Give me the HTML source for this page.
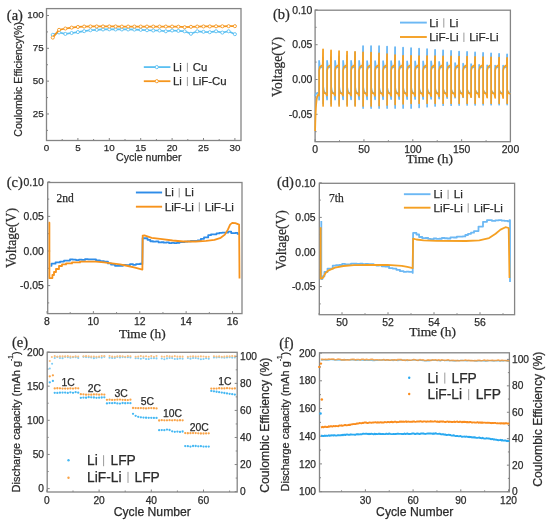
<!DOCTYPE html>
<html><head><meta charset="utf-8"><style>
html,body{margin:0;padding:0;background:#fff;width:550px;height:525px;overflow:hidden}
svg{display:block;filter:blur(0.3px)}
</style></head><body>
<svg width="550" height="525" viewBox="0 0 550 525">
<rect width="550" height="525" fill="#fff"/>
<rect x="46.50" y="8.60" width="194.50" height="131.90" fill="none" stroke="#858585" stroke-width="1.3"/>
<path d="M46.50 140.50v-2.5M77.90 140.50v-2.5M109.30 140.50v-2.5M140.70 140.50v-2.5M172.10 140.50v-2.5M203.50 140.50v-2.5M234.90 140.50v-2.5" stroke="#858585" stroke-width="1"/>
<path d="M62.20 140.50v-1.5M93.60 140.50v-1.5M125.00 140.50v-1.5M156.40 140.50v-1.5M187.80 140.50v-1.5M219.20 140.50v-1.5" stroke="#858585" stroke-width="1"/>
<path d="M46.50 113.97h2.5M46.50 81.15h2.5M46.50 48.32h2.5M46.50 15.50h2.5" stroke="#858585" stroke-width="1"/>
<path d="M46.50 130.39h1.5M46.50 97.56h1.5M46.50 64.74h1.5M46.50 31.91h1.5" stroke="#858585" stroke-width="1"/>
<text x="46.50" y="150.63" font-family='"Liberation Sans", sans-serif' font-size="9.8" text-anchor="middle" fill="#2b2b2b" stroke="#2b2b2b" stroke-width="0.25" stroke-linejoin="round" >0</text>
<text x="77.90" y="150.63" font-family='"Liberation Sans", sans-serif' font-size="9.8" text-anchor="middle" fill="#2b2b2b" stroke="#2b2b2b" stroke-width="0.25" stroke-linejoin="round" >5</text>
<text x="109.30" y="150.63" font-family='"Liberation Sans", sans-serif' font-size="9.8" text-anchor="middle" fill="#2b2b2b" stroke="#2b2b2b" stroke-width="0.25" stroke-linejoin="round" >10</text>
<text x="140.70" y="150.63" font-family='"Liberation Sans", sans-serif' font-size="9.8" text-anchor="middle" fill="#2b2b2b" stroke="#2b2b2b" stroke-width="0.25" stroke-linejoin="round" >15</text>
<text x="172.10" y="150.63" font-family='"Liberation Sans", sans-serif' font-size="9.8" text-anchor="middle" fill="#2b2b2b" stroke="#2b2b2b" stroke-width="0.25" stroke-linejoin="round" >20</text>
<text x="203.50" y="150.63" font-family='"Liberation Sans", sans-serif' font-size="9.8" text-anchor="middle" fill="#2b2b2b" stroke="#2b2b2b" stroke-width="0.25" stroke-linejoin="round" >25</text>
<text x="234.90" y="150.63" font-family='"Liberation Sans", sans-serif' font-size="9.8" text-anchor="middle" fill="#2b2b2b" stroke="#2b2b2b" stroke-width="0.25" stroke-linejoin="round" >30</text>
<text x="43.60" y="116.71" font-family='"Liberation Sans", sans-serif' font-size="9.8" text-anchor="end" fill="#2b2b2b" stroke="#2b2b2b" stroke-width="0.25" stroke-linejoin="round" >25</text>
<text x="43.60" y="83.88" font-family='"Liberation Sans", sans-serif' font-size="9.8" text-anchor="end" fill="#2b2b2b" stroke="#2b2b2b" stroke-width="0.25" stroke-linejoin="round" >50</text>
<text x="43.60" y="51.06" font-family='"Liberation Sans", sans-serif' font-size="9.8" text-anchor="end" fill="#2b2b2b" stroke="#2b2b2b" stroke-width="0.25" stroke-linejoin="round" >75</text>
<text x="43.60" y="18.23" font-family='"Liberation Sans", sans-serif' font-size="9.8" text-anchor="end" fill="#2b2b2b" stroke="#2b2b2b" stroke-width="0.25" stroke-linejoin="round" >100</text>
<text x="148.80" y="160.99" font-family='"Liberation Sans", sans-serif' font-size="10.6" text-anchor="middle" fill="#2b2b2b" stroke="#2b2b2b" stroke-width="0.25" stroke-linejoin="round" >Cycle number</text>
<text transform="translate(21.80,136.20) rotate(-90)" x="-0.54" y="0" font-family='"Liberation Sans", sans-serif' font-size="10.62" fill="#2b2b2b" stroke="#2b2b2b" stroke-width="0.25" stroke-linejoin="round">Coulombic Efficiency(%)</text>
<text x="14.90" y="19.79" font-family='"Liberation Serif", serif' font-size="14.5" text-anchor="middle" fill="#2b2b2b" stroke="#2b2b2b" stroke-width="0.25" stroke-linejoin="round" >(a)</text>
<path d="M52.78 34.84 L59.06 32.48 L65.34 33.92 L71.62 33.00 L77.90 32.08 L84.18 31.16 L90.46 30.24 L96.74 29.85 L103.02 29.46 L109.30 29.32 L115.58 29.46 L121.86 29.46 L128.14 29.46 L134.42 29.59 L140.70 29.85 L146.98 30.24 L153.26 30.51 L159.54 30.51 L165.82 31.29 L172.10 30.51 L178.38 30.90 L184.66 31.29 L190.94 33.79 L197.22 31.29 L203.50 31.82 L209.78 32.21 L216.06 31.29 L222.34 32.61 L228.62 31.29 L234.90 34.18" fill="none" stroke="#5bc0f2" stroke-width="1.7" stroke-linejoin="round" />
<circle cx="52.78" cy="34.84" r="1.55" fill="#fff" stroke="#5bc0f2" stroke-width="0.9"/>
<circle cx="59.06" cy="32.48" r="1.55" fill="#fff" stroke="#5bc0f2" stroke-width="0.9"/>
<circle cx="65.34" cy="33.92" r="1.55" fill="#fff" stroke="#5bc0f2" stroke-width="0.9"/>
<circle cx="71.62" cy="33.00" r="1.55" fill="#fff" stroke="#5bc0f2" stroke-width="0.9"/>
<circle cx="77.90" cy="32.08" r="1.55" fill="#fff" stroke="#5bc0f2" stroke-width="0.9"/>
<circle cx="84.18" cy="31.16" r="1.55" fill="#fff" stroke="#5bc0f2" stroke-width="0.9"/>
<circle cx="90.46" cy="30.24" r="1.55" fill="#fff" stroke="#5bc0f2" stroke-width="0.9"/>
<circle cx="96.74" cy="29.85" r="1.55" fill="#fff" stroke="#5bc0f2" stroke-width="0.9"/>
<circle cx="103.02" cy="29.46" r="1.55" fill="#fff" stroke="#5bc0f2" stroke-width="0.9"/>
<circle cx="109.30" cy="29.32" r="1.55" fill="#fff" stroke="#5bc0f2" stroke-width="0.9"/>
<circle cx="115.58" cy="29.46" r="1.55" fill="#fff" stroke="#5bc0f2" stroke-width="0.9"/>
<circle cx="121.86" cy="29.46" r="1.55" fill="#fff" stroke="#5bc0f2" stroke-width="0.9"/>
<circle cx="128.14" cy="29.46" r="1.55" fill="#fff" stroke="#5bc0f2" stroke-width="0.9"/>
<circle cx="134.42" cy="29.59" r="1.55" fill="#fff" stroke="#5bc0f2" stroke-width="0.9"/>
<circle cx="140.70" cy="29.85" r="1.55" fill="#fff" stroke="#5bc0f2" stroke-width="0.9"/>
<circle cx="146.98" cy="30.24" r="1.55" fill="#fff" stroke="#5bc0f2" stroke-width="0.9"/>
<circle cx="153.26" cy="30.51" r="1.55" fill="#fff" stroke="#5bc0f2" stroke-width="0.9"/>
<circle cx="159.54" cy="30.51" r="1.55" fill="#fff" stroke="#5bc0f2" stroke-width="0.9"/>
<circle cx="165.82" cy="31.29" r="1.55" fill="#fff" stroke="#5bc0f2" stroke-width="0.9"/>
<circle cx="172.10" cy="30.51" r="1.55" fill="#fff" stroke="#5bc0f2" stroke-width="0.9"/>
<circle cx="178.38" cy="30.90" r="1.55" fill="#fff" stroke="#5bc0f2" stroke-width="0.9"/>
<circle cx="184.66" cy="31.29" r="1.55" fill="#fff" stroke="#5bc0f2" stroke-width="0.9"/>
<circle cx="190.94" cy="33.79" r="1.55" fill="#fff" stroke="#5bc0f2" stroke-width="0.9"/>
<circle cx="197.22" cy="31.29" r="1.55" fill="#fff" stroke="#5bc0f2" stroke-width="0.9"/>
<circle cx="203.50" cy="31.82" r="1.55" fill="#fff" stroke="#5bc0f2" stroke-width="0.9"/>
<circle cx="209.78" cy="32.21" r="1.55" fill="#fff" stroke="#5bc0f2" stroke-width="0.9"/>
<circle cx="216.06" cy="31.29" r="1.55" fill="#fff" stroke="#5bc0f2" stroke-width="0.9"/>
<circle cx="222.34" cy="32.61" r="1.55" fill="#fff" stroke="#5bc0f2" stroke-width="0.9"/>
<circle cx="228.62" cy="31.29" r="1.55" fill="#fff" stroke="#5bc0f2" stroke-width="0.9"/>
<circle cx="234.90" cy="34.18" r="1.55" fill="#fff" stroke="#5bc0f2" stroke-width="0.9"/>
<path d="M52.78 37.60 L59.06 29.85 L65.34 28.54 L71.62 27.62 L77.90 26.96 L84.18 26.57 L90.46 26.44 L96.74 26.44 L103.02 26.44 L109.30 26.44 L115.58 26.44 L121.86 26.57 L128.14 26.57 L134.42 26.57 L140.70 26.57 L146.98 26.57 L153.26 26.57 L159.54 26.57 L165.82 26.57 L172.10 26.57 L178.38 26.70 L184.66 27.22 L190.94 26.83 L197.22 26.57 L203.50 26.44 L209.78 26.44 L216.06 26.30 L222.34 26.30 L228.62 26.17 L234.90 26.17" fill="none" stroke="#f5961e" stroke-width="1.7" stroke-linejoin="round" />
<circle cx="52.78" cy="37.60" r="1.55" fill="#fff" stroke="#f5961e" stroke-width="0.9"/>
<circle cx="59.06" cy="29.85" r="1.55" fill="#fff" stroke="#f5961e" stroke-width="0.9"/>
<circle cx="65.34" cy="28.54" r="1.55" fill="#fff" stroke="#f5961e" stroke-width="0.9"/>
<circle cx="71.62" cy="27.62" r="1.55" fill="#fff" stroke="#f5961e" stroke-width="0.9"/>
<circle cx="77.90" cy="26.96" r="1.55" fill="#fff" stroke="#f5961e" stroke-width="0.9"/>
<circle cx="84.18" cy="26.57" r="1.55" fill="#fff" stroke="#f5961e" stroke-width="0.9"/>
<circle cx="90.46" cy="26.44" r="1.55" fill="#fff" stroke="#f5961e" stroke-width="0.9"/>
<circle cx="96.74" cy="26.44" r="1.55" fill="#fff" stroke="#f5961e" stroke-width="0.9"/>
<circle cx="103.02" cy="26.44" r="1.55" fill="#fff" stroke="#f5961e" stroke-width="0.9"/>
<circle cx="109.30" cy="26.44" r="1.55" fill="#fff" stroke="#f5961e" stroke-width="0.9"/>
<circle cx="115.58" cy="26.44" r="1.55" fill="#fff" stroke="#f5961e" stroke-width="0.9"/>
<circle cx="121.86" cy="26.57" r="1.55" fill="#fff" stroke="#f5961e" stroke-width="0.9"/>
<circle cx="128.14" cy="26.57" r="1.55" fill="#fff" stroke="#f5961e" stroke-width="0.9"/>
<circle cx="134.42" cy="26.57" r="1.55" fill="#fff" stroke="#f5961e" stroke-width="0.9"/>
<circle cx="140.70" cy="26.57" r="1.55" fill="#fff" stroke="#f5961e" stroke-width="0.9"/>
<circle cx="146.98" cy="26.57" r="1.55" fill="#fff" stroke="#f5961e" stroke-width="0.9"/>
<circle cx="153.26" cy="26.57" r="1.55" fill="#fff" stroke="#f5961e" stroke-width="0.9"/>
<circle cx="159.54" cy="26.57" r="1.55" fill="#fff" stroke="#f5961e" stroke-width="0.9"/>
<circle cx="165.82" cy="26.57" r="1.55" fill="#fff" stroke="#f5961e" stroke-width="0.9"/>
<circle cx="172.10" cy="26.57" r="1.55" fill="#fff" stroke="#f5961e" stroke-width="0.9"/>
<circle cx="178.38" cy="26.70" r="1.55" fill="#fff" stroke="#f5961e" stroke-width="0.9"/>
<circle cx="184.66" cy="27.22" r="1.55" fill="#fff" stroke="#f5961e" stroke-width="0.9"/>
<circle cx="190.94" cy="26.83" r="1.55" fill="#fff" stroke="#f5961e" stroke-width="0.9"/>
<circle cx="197.22" cy="26.57" r="1.55" fill="#fff" stroke="#f5961e" stroke-width="0.9"/>
<circle cx="203.50" cy="26.44" r="1.55" fill="#fff" stroke="#f5961e" stroke-width="0.9"/>
<circle cx="209.78" cy="26.44" r="1.55" fill="#fff" stroke="#f5961e" stroke-width="0.9"/>
<circle cx="216.06" cy="26.30" r="1.55" fill="#fff" stroke="#f5961e" stroke-width="0.9"/>
<circle cx="222.34" cy="26.30" r="1.55" fill="#fff" stroke="#f5961e" stroke-width="0.9"/>
<circle cx="228.62" cy="26.17" r="1.55" fill="#fff" stroke="#f5961e" stroke-width="0.9"/>
<circle cx="234.90" cy="26.17" r="1.55" fill="#fff" stroke="#f5961e" stroke-width="0.9"/>
<path d="M143.8 67.1H170.4" stroke="#5bc0f2" stroke-width="1.8"/>
<circle cx="156.8" cy="67.1" r="1.6" fill="#fff" stroke="#5bc0f2" stroke-width="0.9"/>
<text x="173.00" y="70.98" font-family='"Liberation Sans", sans-serif' font-size="11.4" text-anchor="start" fill="#2b2b2b" stroke="#2b2b2b" stroke-width="0.25" stroke-linejoin="round" >Li</text>
<path d="M187.40 62.84v9.12" stroke="#909090" stroke-width="0.9"/>
<text x="192.82" y="70.98" font-family='"Liberation Sans", sans-serif' font-size="11.4" text-anchor="start" fill="#2b2b2b" stroke="#2b2b2b" stroke-width="0.25" stroke-linejoin="round" >Cu</text>
<path d="M143.8 81.2H170.4" stroke="#f5961e" stroke-width="1.8"/>
<circle cx="156.8" cy="81.2" r="1.6" fill="#fff" stroke="#f5961e" stroke-width="0.9"/>
<text x="173.00" y="85.08" font-family='"Liberation Sans", sans-serif' font-size="11.4" text-anchor="start" fill="#2b2b2b" stroke="#2b2b2b" stroke-width="0.25" stroke-linejoin="round" >Li</text>
<path d="M187.40 76.94v9.12" stroke="#909090" stroke-width="0.9"/>
<text x="192.47" y="85.08" font-family='"Liberation Sans", sans-serif' font-size="11.4" text-anchor="start" fill="#2b2b2b" stroke="#2b2b2b" stroke-width="0.25" stroke-linejoin="round" >LiF-Cu</text>
<rect x="315.10" y="10.20" width="195.30" height="131.50" fill="none" stroke="#858585" stroke-width="1.3"/>
<path d="M315.10 141.70v-2.5M363.95 141.70v-2.5M412.80 141.70v-2.5M461.65 141.70v-2.5M510.50 141.70v-2.5" stroke="#858585" stroke-width="1"/>
<path d="M339.53 141.70v-1.5M388.38 141.70v-1.5M437.23 141.70v-1.5M486.08 141.70v-1.5" stroke="#858585" stroke-width="1"/>
<path d="M315.10 9.90h2.5M315.10 44.70h2.5M315.10 79.50h2.5M315.10 114.30h2.5" stroke="#858585" stroke-width="1"/>
<path d="M315.10 27.30h1.5M315.10 62.10h1.5M315.10 96.90h1.5M315.10 131.70h1.5" stroke="#858585" stroke-width="1"/>
<text x="315.10" y="152.72" font-family='"Liberation Sans", sans-serif' font-size="10.4" text-anchor="middle" fill="#2b2b2b" stroke="#2b2b2b" stroke-width="0.25" stroke-linejoin="round" >0</text>
<text x="363.95" y="152.72" font-family='"Liberation Sans", sans-serif' font-size="10.4" text-anchor="middle" fill="#2b2b2b" stroke="#2b2b2b" stroke-width="0.25" stroke-linejoin="round" >50</text>
<text x="412.80" y="152.72" font-family='"Liberation Sans", sans-serif' font-size="10.4" text-anchor="middle" fill="#2b2b2b" stroke="#2b2b2b" stroke-width="0.25" stroke-linejoin="round" >100</text>
<text x="461.65" y="152.72" font-family='"Liberation Sans", sans-serif' font-size="10.4" text-anchor="middle" fill="#2b2b2b" stroke="#2b2b2b" stroke-width="0.25" stroke-linejoin="round" >150</text>
<text x="510.50" y="152.72" font-family='"Liberation Sans", sans-serif' font-size="10.4" text-anchor="middle" fill="#2b2b2b" stroke="#2b2b2b" stroke-width="0.25" stroke-linejoin="round" >200</text>
<text x="312.40" y="13.62" font-family='"Liberation Sans", sans-serif' font-size="10.4" text-anchor="end" fill="#2b2b2b" stroke="#2b2b2b" stroke-width="0.25" stroke-linejoin="round" >0.10</text>
<text x="312.40" y="48.42" font-family='"Liberation Sans", sans-serif' font-size="10.4" text-anchor="end" fill="#2b2b2b" stroke="#2b2b2b" stroke-width="0.25" stroke-linejoin="round" >0.05</text>
<text x="312.40" y="83.22" font-family='"Liberation Sans", sans-serif' font-size="10.4" text-anchor="end" fill="#2b2b2b" stroke="#2b2b2b" stroke-width="0.25" stroke-linejoin="round" >0.00</text>
<text x="312.40" y="118.02" font-family='"Liberation Sans", sans-serif' font-size="10.4" text-anchor="end" fill="#2b2b2b" stroke="#2b2b2b" stroke-width="0.25" stroke-linejoin="round" >-0.05</text>
<text x="429.60" y="162.82" font-family='"Liberation Serif", serif' font-size="13.4" text-anchor="middle" fill="#2b2b2b" stroke="#2b2b2b" stroke-width="0.25" stroke-linejoin="round" >Time (h)</text>
<text transform="translate(281.60,96.80) rotate(-90)" x="-0.15" y="0" font-family='"Liberation Serif", serif' font-size="13.55" fill="#2b2b2b" stroke="#2b2b2b" stroke-width="0.25" stroke-linejoin="round">Voltage(V)</text>
<text x="281.50" y="18.79" font-family='"Liberation Serif", serif' font-size="14.5" text-anchor="middle" fill="#2b2b2b" stroke="#2b2b2b" stroke-width="0.25" stroke-linejoin="round" >(b)</text>
<path d="M315.10 96.20 L315.30 95.50 L315.50 94.93 L315.70 94.48 L315.90 94.12 L316.10 93.84 L316.30 93.61 L316.50 93.43 L316.70 93.29 L316.90 93.17 L317.10 93.08 L317.30 93.01 L317.50 92.95 L317.70 92.90 L317.90 92.87 L318.10 92.84 L318.30 92.82 L318.50 92.80 L318.70 92.78 L318.90 92.77 L319.10 92.76 L319.10 99.66 L319.10 60.73 L319.88 67.67 L322.76 66.97 L323.00 57.87 L323.10 57.87 L323.10 103.45 L323.25 87.25 L324.08 92.03 L326.42 93.42 L327.10 99.61 L327.10 60.78 L327.88 67.67 L330.76 66.97 L331.01 57.12 L331.10 57.12 L331.10 103.73 L331.25 87.35 L332.08 92.03 L334.42 93.42 L335.10 99.57 L335.10 60.83 L335.89 67.67 L338.76 66.97 L339.01 56.37 L339.10 56.37 L339.10 104.02 L339.25 87.44 L340.08 92.03 L342.42 93.42 L343.11 99.52 L343.11 60.87 L343.89 67.67 L346.76 66.97 L347.01 55.62 L347.11 55.62 L347.11 104.30 L347.25 87.54 L348.08 92.03 L350.42 93.42 L351.11 99.47 L351.11 60.92 L351.89 67.67 L354.77 66.97 L355.01 52.47 L355.11 52.47 L355.11 104.97 L355.25 87.63 L356.09 92.03 L358.43 93.42 L359.11 99.42 L359.11 60.97 L359.89 67.67 L362.77 66.97 L363.01 46.09 L363.11 46.09 L363.11 108.04 L363.26 87.73 L364.09 92.03 L366.43 93.42 L367.11 99.38 L367.11 61.02 L367.89 67.67 L370.77 66.97 L371.01 46.09 L371.11 46.09 L371.11 108.04 L371.26 87.82 L372.09 92.03 L374.43 93.42 L375.11 99.33 L375.11 61.06 L375.89 67.67 L378.77 66.97 L379.02 46.12 L379.11 46.12 L379.11 108.04 L379.26 87.92 L380.09 92.03 L382.43 93.42 L383.11 99.28 L383.11 61.11 L383.90 67.67 L386.77 66.97 L387.02 46.61 L387.11 46.61 L387.11 108.04 L387.26 88.01 L388.09 92.03 L390.43 93.42 L391.12 99.23 L391.12 61.16 L391.90 67.67 L394.77 66.97 L395.02 47.10 L395.12 47.10 L395.12 108.04 L395.26 88.11 L396.09 92.03 L398.43 93.42 L399.12 99.19 L399.12 61.21 L399.90 67.67 L402.78 66.97 L403.02 47.59 L403.12 47.59 L403.12 108.04 L403.26 88.20 L404.09 92.03 L406.43 93.42 L407.12 99.14 L407.12 61.25 L407.90 67.67 L410.78 66.97 L411.02 48.08 L411.12 48.08 L411.12 108.04 L411.27 88.30 L412.10 92.03 L414.44 93.42 L415.12 99.09 L415.12 61.30 L415.90 67.67 L418.78 66.97 L419.02 48.63 L419.12 48.63 L419.12 107.44 L419.27 88.39 L420.10 92.03 L422.44 93.42 L423.12 99.04 L423.12 61.35 L423.90 67.67 L426.78 66.97 L427.03 49.20 L427.12 49.20 L427.12 106.68 L427.27 88.49 L428.10 92.03 L430.44 93.42 L431.12 99.00 L431.12 61.40 L431.91 67.67 L434.78 66.97 L435.03 49.77 L435.12 49.77 L435.12 105.92 L435.27 88.65 L436.10 92.03 L438.44 93.42 L439.13 98.63 L439.13 61.89 L439.91 67.67 L442.78 66.97 L443.03 50.34 L443.13 50.34 L443.13 105.24 L443.27 88.93 L444.10 92.03 L446.44 93.42 L447.13 98.20 L447.13 62.46 L447.91 67.67 L450.79 66.97 L451.03 50.91 L451.13 50.91 L451.13 105.16 L451.27 89.22 L452.10 92.03 L454.44 93.42 L455.13 97.77 L455.13 63.03 L455.91 67.67 L458.79 66.97 L459.03 51.48 L459.13 51.48 L459.13 105.08 L459.28 89.50 L460.11 92.03 L462.45 93.42 L463.13 97.34 L463.13 63.60 L463.91 67.67 L466.79 66.97 L467.03 51.97 L467.13 51.97 L467.13 105.00 L467.28 89.79 L468.11 92.03 L470.45 93.42 L471.13 96.92 L471.13 64.17 L471.91 67.67 L474.79 66.97 L475.03 52.43 L475.13 52.43 L475.13 104.92 L475.28 90.07 L476.11 92.03 L478.45 93.42 L479.13 96.49 L479.13 64.74 L479.92 67.67 L482.79 66.97 L483.04 52.88 L483.13 52.88 L483.13 104.83 L483.28 90.36 L484.11 92.03 L486.45 93.42 L487.14 96.06 L487.14 65.31 L487.92 67.67 L490.79 66.97 L491.04 53.34 L491.14 53.34 L491.14 104.75 L491.28 90.64 L492.11 92.03 L494.45 93.42 L495.14 95.63 L495.14 65.58 L495.92 67.67 L498.80 66.97 L499.04 53.80 L499.14 53.80 L499.14 104.67 L499.28 90.93 L500.11 92.03 L502.45 93.42 L503.14 95.21 L503.14 65.58 L503.92 67.67 L506.80 66.97 L507.04 54.25 L507.14 54.25 L507.14 104.59 L507.29 91.21 L508.12 92.03 L510.21 93.42 L510.21 93.42" fill="none" stroke="#6cb8f4" stroke-width="1.7" stroke-linejoin="round" />
<path d="M315.10 131.00 L315.30 123.36 L315.50 117.27 L315.70 112.41 L315.90 108.55 L316.10 105.47 L316.30 103.02 L316.50 101.07 L316.70 99.51 L316.90 98.27 L317.10 97.28 L317.30 96.50 L317.50 95.87 L317.70 95.37 L317.90 94.98 L318.10 94.66 L318.30 94.41 L318.50 94.21 L318.70 94.05 L318.90 93.92 L319.10 93.82 L319.10 95.53 L319.10 70.45 L319.88 66.97 L322.76 64.88 L323.00 49.32 L323.10 49.32 L323.10 105.95 L323.25 89.94 L324.08 92.72 L326.42 94.12 L327.10 95.58 L327.10 70.45 L327.88 66.97 L330.76 64.88 L331.01 50.46 L331.10 50.46 L331.10 105.95 L331.25 89.94 L332.08 92.72 L334.42 94.12 L335.10 95.63 L335.10 70.45 L335.89 66.97 L338.76 64.88 L339.01 51.16 L339.10 51.16 L339.10 105.95 L339.25 89.94 L340.08 92.72 L342.42 94.12 L343.11 95.67 L343.11 70.45 L343.89 66.97 L346.76 64.88 L347.01 51.52 L347.11 51.52 L347.11 105.95 L347.25 89.94 L348.08 92.72 L350.42 94.12 L351.11 95.72 L351.11 70.45 L351.89 66.97 L354.77 64.88 L355.01 51.88 L355.11 51.88 L355.11 105.95 L355.25 89.94 L356.09 92.72 L358.43 94.12 L359.11 95.77 L359.11 70.45 L359.89 66.97 L362.77 64.88 L363.01 52.23 L363.11 52.23 L363.11 105.95 L363.26 89.94 L364.09 92.72 L366.43 94.12 L367.11 95.82 L367.11 70.45 L367.89 66.97 L370.77 64.88 L371.01 52.59 L371.11 52.59 L371.11 105.95 L371.26 89.94 L372.09 92.72 L374.43 94.12 L375.11 95.86 L375.11 70.45 L375.89 66.97 L378.77 64.88 L379.02 53.28 L379.11 53.28 L379.11 105.56 L379.26 89.94 L380.09 92.72 L382.43 94.12 L383.11 95.91 L383.11 70.45 L383.90 66.97 L386.77 64.88 L387.02 54.14 L387.11 54.14 L387.11 104.99 L387.26 89.94 L388.09 92.72 L390.43 94.12 L391.12 95.96 L391.12 70.45 L391.90 66.97 L394.77 64.88 L395.02 54.99 L395.12 54.99 L395.12 104.42 L395.26 89.94 L396.09 92.72 L398.43 94.12 L399.12 96.01 L399.12 70.45 L399.90 66.97 L402.78 64.88 L403.02 55.84 L403.12 55.84 L403.12 103.85 L403.26 89.94 L404.09 92.72 L406.43 94.12 L407.12 96.05 L407.12 70.45 L407.90 66.97 L410.78 64.88 L411.02 55.93 L411.12 55.93 L411.12 103.28 L411.27 89.94 L412.10 92.72 L414.44 94.12 L415.12 96.10 L415.12 70.45 L415.90 66.97 L418.78 64.88 L419.02 56.03 L419.12 56.03 L419.12 103.16 L419.27 89.94 L420.10 92.72 L422.44 94.12 L423.12 96.15 L423.12 70.45 L423.90 66.97 L426.78 64.88 L427.03 56.12 L427.12 56.12 L427.12 103.16 L427.27 89.94 L428.10 92.72 L430.44 94.12 L431.12 96.20 L431.12 70.45 L431.91 66.97 L434.78 64.88 L435.03 56.22 L435.12 56.22 L435.12 103.16 L435.27 89.94 L436.10 92.72 L438.44 94.12 L439.13 96.39 L439.13 70.45 L439.91 66.97 L442.78 64.88 L443.03 56.31 L443.13 56.31 L443.13 103.16 L443.27 89.94 L444.10 92.72 L446.44 94.12 L447.13 96.60 L447.13 70.45 L447.91 66.97 L450.79 64.88 L451.03 56.41 L451.13 56.41 L451.13 103.16 L451.27 89.94 L452.10 92.72 L454.44 94.12 L455.13 96.81 L455.13 70.45 L455.91 66.97 L458.79 64.88 L459.03 56.50 L459.13 56.50 L459.13 103.16 L459.28 89.94 L460.11 92.72 L462.45 94.12 L463.13 97.03 L463.13 70.45 L463.91 66.97 L466.79 64.88 L467.03 56.69 L467.13 56.69 L467.13 103.16 L467.28 89.94 L468.11 92.72 L470.45 94.12 L471.13 97.24 L471.13 70.45 L471.91 66.97 L474.79 64.88 L475.03 56.92 L475.13 56.92 L475.13 103.16 L475.28 89.94 L476.11 92.72 L478.45 94.12 L479.13 97.45 L479.13 70.45 L479.92 66.97 L482.79 64.88 L483.04 57.14 L483.13 57.14 L483.13 103.16 L483.28 89.94 L484.11 92.72 L486.45 94.12 L487.14 97.67 L487.14 70.45 L487.92 66.97 L490.79 64.88 L491.04 57.37 L491.14 57.37 L491.14 103.16 L491.28 89.94 L492.11 92.72 L494.45 94.12 L495.14 97.88 L495.14 70.45 L495.92 66.97 L498.80 64.88 L499.04 57.60 L499.14 57.60 L499.14 103.16 L499.28 89.94 L500.11 92.72 L502.45 94.12 L503.14 98.10 L503.14 70.45 L503.92 66.97 L506.80 64.88 L507.04 57.83 L507.14 57.83 L507.14 103.16 L507.29 89.94 L508.12 92.72 L510.21 94.12 L510.21 94.12" fill="none" stroke="#f5a023" stroke-width="1.7" stroke-linejoin="round" />
<path d="M400.0 22.6H426.8" stroke="#6cb8f4" stroke-width="1.9"/>
<text x="429.30" y="26.59" font-family='"Liberation Sans", sans-serif' font-size="11.7" text-anchor="start" fill="#2b2b2b" stroke="#2b2b2b" stroke-width="0.25" stroke-linejoin="round" >Li</text>
<path d="M443.80 18.22v9.36" stroke="#909090" stroke-width="0.9"/>
<text x="449.34" y="26.59" font-family='"Liberation Sans", sans-serif' font-size="11.7" text-anchor="start" fill="#2b2b2b" stroke="#2b2b2b" stroke-width="0.25" stroke-linejoin="round" >Li</text>
<path d="M400.0 37.0H426.8" stroke="#f5a023" stroke-width="1.9"/>
<text x="429.30" y="40.99" font-family='"Liberation Sans", sans-serif' font-size="11.7" text-anchor="start" fill="#2b2b2b" stroke="#2b2b2b" stroke-width="0.25" stroke-linejoin="round" >LiF-Li</text>
<path d="M463.90 32.62v9.36" stroke="#909090" stroke-width="0.9"/>
<text x="469.34" y="40.99" font-family='"Liberation Sans", sans-serif' font-size="11.7" text-anchor="start" fill="#2b2b2b" stroke="#2b2b2b" stroke-width="0.25" stroke-linejoin="round" >LiF-Li</text>
<rect x="47.70" y="182.50" width="194.30" height="131.10" fill="none" stroke="#858585" stroke-width="1.3"/>
<path d="M47.00 313.60v-2.5M93.38 313.60v-2.5M139.76 313.60v-2.5M186.14 313.60v-2.5M232.52 313.60v-2.5" stroke="#858585" stroke-width="1"/>
<path d="M70.19 313.60v-1.5M116.57 313.60v-1.5M162.95 313.60v-1.5M209.33 313.60v-1.5" stroke="#858585" stroke-width="1"/>
<path d="M47.70 181.80h2.5M47.70 216.40h2.5M47.70 251.00h2.5M47.70 285.60h2.5" stroke="#858585" stroke-width="1"/>
<path d="M47.70 199.10h1.5M47.70 233.70h1.5M47.70 268.30h1.5M47.70 302.90h1.5" stroke="#858585" stroke-width="1"/>
<text x="47.00" y="324.92" font-family='"Liberation Sans", sans-serif' font-size="10.4" text-anchor="middle" fill="#2b2b2b" stroke="#2b2b2b" stroke-width="0.25" stroke-linejoin="round" >8</text>
<text x="93.38" y="324.92" font-family='"Liberation Sans", sans-serif' font-size="10.4" text-anchor="middle" fill="#2b2b2b" stroke="#2b2b2b" stroke-width="0.25" stroke-linejoin="round" >10</text>
<text x="139.76" y="324.92" font-family='"Liberation Sans", sans-serif' font-size="10.4" text-anchor="middle" fill="#2b2b2b" stroke="#2b2b2b" stroke-width="0.25" stroke-linejoin="round" >12</text>
<text x="186.14" y="324.92" font-family='"Liberation Sans", sans-serif' font-size="10.4" text-anchor="middle" fill="#2b2b2b" stroke="#2b2b2b" stroke-width="0.25" stroke-linejoin="round" >14</text>
<text x="232.52" y="324.92" font-family='"Liberation Sans", sans-serif' font-size="10.4" text-anchor="middle" fill="#2b2b2b" stroke="#2b2b2b" stroke-width="0.25" stroke-linejoin="round" >16</text>
<text x="43.80" y="185.52" font-family='"Liberation Sans", sans-serif' font-size="10.4" text-anchor="end" fill="#2b2b2b" stroke="#2b2b2b" stroke-width="0.25" stroke-linejoin="round" >0.10</text>
<text x="43.80" y="220.12" font-family='"Liberation Sans", sans-serif' font-size="10.4" text-anchor="end" fill="#2b2b2b" stroke="#2b2b2b" stroke-width="0.25" stroke-linejoin="round" >0.05</text>
<text x="43.80" y="254.72" font-family='"Liberation Sans", sans-serif' font-size="10.4" text-anchor="end" fill="#2b2b2b" stroke="#2b2b2b" stroke-width="0.25" stroke-linejoin="round" >0.00</text>
<text x="43.80" y="289.32" font-family='"Liberation Sans", sans-serif' font-size="10.4" text-anchor="end" fill="#2b2b2b" stroke="#2b2b2b" stroke-width="0.25" stroke-linejoin="round" >-0.05</text>
<text x="142.30" y="338.02" font-family='"Liberation Serif", serif' font-size="13.4" text-anchor="middle" fill="#2b2b2b" stroke="#2b2b2b" stroke-width="0.25" stroke-linejoin="round" >Time (h)</text>
<text transform="translate(15.50,267.90) rotate(-90)" x="-0.15" y="0" font-family='"Liberation Serif", serif' font-size="13.55" fill="#2b2b2b" stroke="#2b2b2b" stroke-width="0.25" stroke-linejoin="round">Voltage(V)</text>
<text x="14.80" y="187.48" font-family='"Liberation Serif", serif' font-size="14.5" text-anchor="middle" fill="#2b2b2b" stroke="#2b2b2b" stroke-width="0.25" stroke-linejoin="round" >(c)</text>
<text x="56.40" y="201.99" font-family='"Liberation Serif", serif' font-size="11.5" text-anchor="start" fill="#2b2b2b" stroke="#2b2b2b" stroke-width="0.25" stroke-linejoin="round" >2nd</text>
<path d="M50.60 265.84 L51.50 265.84 L51.50 263.67 L55.50 263.67 L55.50 262.42 L60.00 262.42 L60.00 261.59 L64.00 261.59 L64.00 260.71 L67.00 260.71 L67.00 260.61 L70.00 260.61 L70.00 259.38 L73.00 259.38 L73.00 259.66 L76.00 259.66 L76.00 260.04 L79.00 260.04 L79.00 259.61 L82.00 259.61 L82.00 259.89 L85.00 259.89 L85.00 259.12 L88.00 259.12 L88.00 259.37 L92.00 259.37 L92.00 259.32 L96.00 259.32 L96.00 260.35 L100.00 260.35 L100.00 261.18 L104.00 261.18 L104.00 261.76 L108.00 261.76 L108.00 263.44 L111.00 263.44 L111.00 264.61 L115.00 264.61 L115.00 265.86 L120.00 265.86 L120.00 265.74 L123.00 265.74 L123.00 264.78 L126.00 264.78 L126.00 265.03 L130.00 265.03 L130.00 264.10 L133.00 264.10 L133.00 264.83 L136.00 264.83 L136.00 264.19 L140.00 264.19 L140.00 263.75 L142.30 263.75 L142.30 264.20 L142.60 238.11 L143.80 238.11 L143.80 238.23 L147.50 238.23 L147.50 239.85 L150.30 239.85 L150.30 241.23 L153.10 241.23 L153.10 241.64 L155.90 241.64 L155.90 241.41 L158.53 241.41 L158.53 242.42 L161.15 242.42 L161.15 242.23 L163.78 242.23 L163.78 242.66 L166.40 242.66 L166.40 242.28 L169.00 242.28 L169.00 243.09 L171.60 243.09 L171.60 242.81 L174.20 242.81 L174.20 243.11 L176.80 243.11 L176.80 242.96 L179.43 242.96 L179.43 242.15 L182.05 242.15 L182.05 242.07 L184.68 242.07 L184.68 241.71 L187.30 241.71 L187.30 241.43 L190.77 241.43 L190.77 240.97 L194.23 240.97 L194.23 240.86 L197.70 240.86 L197.70 240.49 L200.85 240.49 L200.85 238.78 L204.00 238.78 L204.00 237.45 L208.20 237.45 L208.20 235.17 L210.97 235.17 L210.97 234.44 L213.73 234.44 L213.73 234.30 L216.50 234.30 L216.50 233.40 L219.30 233.40 L219.30 232.85 L222.10 232.85 L222.10 232.66 L224.90 232.66 L224.90 232.63 L228.05 232.63 L228.05 231.71 L231.20 231.71 L231.20 233.07 L235.40 233.07 L235.40 232.78 L237.50 232.78 L237.50 233.87 L238.50 233.87 L238.50 233.60" fill="none" stroke="#2e8ce8" stroke-width="1.8" stroke-linejoin="round" />
<path d="M48.60 222.70 L49.40 222.70 L49.40 278.20 L52.40 278.00 L52.40 275.00 L54.00 275.00 L54.00 272.00 L56.00 272.00 L56.00 269.00 L59.00 269.00 L59.00 266.00 L62.00 266.00 L62.00 264.40 L66.00 264.40 L66.00 263.40 L72.00 263.40 L72.00 262.40 L80.00 262.40 L80.00 261.60 L96.00 261.60 L104.00 262.40 L112.00 263.40 L120.00 264.40 L128.00 266.00 L135.00 267.60 L142.40 269.60 L142.70 235.60 L144.40 235.30 L151.70 237.80 L162.20 239.20 L172.60 240.50 L183.10 241.50 L195.60 241.50 L206.10 240.90 L214.40 239.90 L220.70 237.80 L224.90 234.60 L228.00 229.40 L230.10 224.60 L232.20 222.90 L235.40 223.10 L239.10 224.60 L239.50 278.50" fill="none" stroke="#f7931c" stroke-width="1.8" stroke-linejoin="round" />
<path d="M135.9 192.5H162.1" stroke="#2e8ce8" stroke-width="1.9"/>
<text x="164.70" y="196.49" font-family='"Liberation Sans", sans-serif' font-size="11.7" text-anchor="start" fill="#2b2b2b" stroke="#2b2b2b" stroke-width="0.25" stroke-linejoin="round" >Li</text>
<path d="M179.20 188.12v9.36" stroke="#909090" stroke-width="0.9"/>
<text x="184.74" y="196.49" font-family='"Liberation Sans", sans-serif' font-size="11.7" text-anchor="start" fill="#2b2b2b" stroke="#2b2b2b" stroke-width="0.25" stroke-linejoin="round" >Li</text>
<path d="M135.9 206.7H162.1" stroke="#f7931c" stroke-width="1.9"/>
<text x="164.70" y="210.69" font-family='"Liberation Sans", sans-serif' font-size="11.7" text-anchor="start" fill="#2b2b2b" stroke="#2b2b2b" stroke-width="0.25" stroke-linejoin="round" >LiF-Li</text>
<path d="M199.30 202.32v9.36" stroke="#909090" stroke-width="0.9"/>
<text x="204.74" y="210.69" font-family='"Liberation Sans", sans-serif' font-size="11.7" text-anchor="start" fill="#2b2b2b" stroke="#2b2b2b" stroke-width="0.25" stroke-linejoin="round" >LiF-Li</text>
<rect x="319.30" y="183.30" width="195.30" height="131.40" fill="none" stroke="#858585" stroke-width="1.3"/>
<path d="M342.00 314.70v-2.5M388.00 314.70v-2.5M434.00 314.70v-2.5M480.00 314.70v-2.5" stroke="#858585" stroke-width="1"/>
<path d="M319.00 314.70v-1.5M365.00 314.70v-1.5M411.00 314.70v-1.5M457.00 314.70v-1.5M503.00 314.70v-1.5" stroke="#858585" stroke-width="1"/>
<path d="M319.30 182.80h2.5M319.30 217.40h2.5M319.30 252.00h2.5M319.30 286.60h2.5" stroke="#858585" stroke-width="1"/>
<path d="M319.30 200.10h1.5M319.30 234.70h1.5M319.30 269.30h1.5M319.30 303.90h1.5" stroke="#858585" stroke-width="1"/>
<text x="342.00" y="325.72" font-family='"Liberation Sans", sans-serif' font-size="10.4" text-anchor="middle" fill="#2b2b2b" stroke="#2b2b2b" stroke-width="0.25" stroke-linejoin="round" >50</text>
<text x="388.00" y="325.72" font-family='"Liberation Sans", sans-serif' font-size="10.4" text-anchor="middle" fill="#2b2b2b" stroke="#2b2b2b" stroke-width="0.25" stroke-linejoin="round" >52</text>
<text x="434.00" y="325.72" font-family='"Liberation Sans", sans-serif' font-size="10.4" text-anchor="middle" fill="#2b2b2b" stroke="#2b2b2b" stroke-width="0.25" stroke-linejoin="round" >54</text>
<text x="480.00" y="325.72" font-family='"Liberation Sans", sans-serif' font-size="10.4" text-anchor="middle" fill="#2b2b2b" stroke="#2b2b2b" stroke-width="0.25" stroke-linejoin="round" >56</text>
<text x="315.60" y="186.52" font-family='"Liberation Sans", sans-serif' font-size="10.4" text-anchor="end" fill="#2b2b2b" stroke="#2b2b2b" stroke-width="0.25" stroke-linejoin="round" >0.10</text>
<text x="315.60" y="221.12" font-family='"Liberation Sans", sans-serif' font-size="10.4" text-anchor="end" fill="#2b2b2b" stroke="#2b2b2b" stroke-width="0.25" stroke-linejoin="round" >0.05</text>
<text x="315.60" y="255.72" font-family='"Liberation Sans", sans-serif' font-size="10.4" text-anchor="end" fill="#2b2b2b" stroke="#2b2b2b" stroke-width="0.25" stroke-linejoin="round" >0.00</text>
<text x="315.60" y="290.32" font-family='"Liberation Sans", sans-serif' font-size="10.4" text-anchor="end" fill="#2b2b2b" stroke="#2b2b2b" stroke-width="0.25" stroke-linejoin="round" >-0.05</text>
<text x="432.60" y="335.82" font-family='"Liberation Serif", serif' font-size="13.4" text-anchor="middle" fill="#2b2b2b" stroke="#2b2b2b" stroke-width="0.25" stroke-linejoin="round" >Time (h)</text>
<text transform="translate(285.50,270.00) rotate(-90)" x="-0.15" y="0" font-family='"Liberation Serif", serif' font-size="13.55" fill="#2b2b2b" stroke="#2b2b2b" stroke-width="0.25" stroke-linejoin="round">Voltage(V)</text>
<text x="285.50" y="187.48" font-family='"Liberation Serif", serif' font-size="14.5" text-anchor="middle" fill="#2b2b2b" stroke="#2b2b2b" stroke-width="0.25" stroke-linejoin="round" >(d)</text>
<text x="329.00" y="201.99" font-family='"Liberation Serif", serif' font-size="11.5" text-anchor="start" fill="#2b2b2b" stroke="#2b2b2b" stroke-width="0.25" stroke-linejoin="round" >7th</text>
<path d="M321.30 220.90 L321.30 279.11 L322.40 279.11 L322.40 276.36 L324.40 276.36 L324.40 272.00 L327.50 272.00 L327.50 268.65 L332.70 268.65 L332.70 265.63 L335.95 265.63 L335.95 265.13 L339.20 265.13 L339.20 264.98 L342.14 264.98 L342.14 263.96 L345.08 263.96 L345.08 264.36 L348.02 264.36 L348.02 264.31 L350.96 264.31 L350.96 263.55 L353.90 263.55 L353.90 263.77 L356.95 263.77 L356.95 263.92 L360.00 263.92 L360.00 263.66 L362.75 263.66 L362.75 264.19 L365.50 264.19 L365.50 263.79 L368.25 263.79 L368.25 264.10 L371.00 264.10 L371.00 264.20 L373.70 264.20 L373.70 264.88 L376.40 264.88 L376.40 265.59 L379.10 265.59 L379.10 265.47 L381.80 265.47 L381.80 266.25 L385.45 266.25 L385.45 266.72 L389.10 266.72 L389.10 268.15 L392.75 268.15 L392.75 268.59 L396.40 268.59 L396.40 269.85 L400.00 269.85 L400.00 271.22 L403.60 271.22 L403.60 271.85 L406.35 271.85 L406.35 271.71 L409.10 271.71 L409.10 271.95 L412.70 271.95 L412.70 272.90 L413.10 232.89 L416.40 232.89 L416.40 234.48 L419.10 234.48 L419.10 236.98 L422.30 236.98 L422.30 238.22 L425.50 238.22 L425.50 237.98 L428.23 237.98 L428.23 238.96 L430.95 238.96 L430.95 239.18 L433.67 239.18 L433.67 238.50 L436.40 238.50 L436.40 238.85 L439.12 238.85 L439.12 238.75 L441.85 238.75 L441.85 238.01 L444.57 238.01 L444.57 238.23 L447.30 238.23 L447.30 238.48 L450.48 238.48 L450.48 237.29 L453.65 237.29 L453.65 237.49 L456.82 237.49 L456.82 236.65 L460.00 236.65 L460.00 236.67 L462.67 236.67 L462.67 236.38 L465.33 236.38 L465.33 234.99 L468.00 234.99 L468.00 233.83 L471.00 233.83 L471.00 232.67 L474.00 232.67 L474.00 231.09 L478.50 231.09 L478.50 226.62 L483.00 226.62 L483.00 221.79 L487.00 221.79 L487.00 220.10 L492.00 220.10 L492.00 220.96 L495.30 220.96 L495.30 220.39 L498.50 220.39 L498.50 220.11 L501.70 220.11 L501.70 220.68 L504.70 220.68 L504.70 220.93 L507.70 220.93 L507.70 221.29 L509.50 221.29 L509.50 220.24 L510.00 220.24 L510.00 220.60 L510.00 282.00" fill="none" stroke="#6cb8f4" stroke-width="1.8" stroke-linejoin="round" />
<path d="M320.70 227.30 L320.70 278.60 L322.50 278.20 L323.40 277.20 L325.50 273.00 L328.70 270.30 L335.00 267.70 L343.40 266.00 L353.90 265.20 L368.50 265.00 L387.30 264.90 L401.80 265.80 L407.30 266.90 L412.70 268.20 L413.10 238.70 L416.40 239.50 L423.60 240.40 L436.40 240.90 L466.00 241.00 L479.30 240.30 L489.10 238.10 L495.60 233.70 L500.50 229.60 L505.50 227.20 L508.70 228.00 L509.50 277.90" fill="none" stroke="#f5a023" stroke-width="1.8" stroke-linejoin="round" />
<path d="M403.9 194.2H430.5" stroke="#6cb8f4" stroke-width="1.9"/>
<text x="433.60" y="198.19" font-family='"Liberation Sans", sans-serif' font-size="11.7" text-anchor="start" fill="#2b2b2b" stroke="#2b2b2b" stroke-width="0.25" stroke-linejoin="round" >Li</text>
<path d="M448.10 189.82v9.36" stroke="#909090" stroke-width="0.9"/>
<text x="453.64" y="198.19" font-family='"Liberation Sans", sans-serif' font-size="11.7" text-anchor="start" fill="#2b2b2b" stroke="#2b2b2b" stroke-width="0.25" stroke-linejoin="round" >Li</text>
<path d="M403.9 207.7H430.5" stroke="#f5a023" stroke-width="1.9"/>
<text x="433.60" y="211.69" font-family='"Liberation Sans", sans-serif' font-size="11.7" text-anchor="start" fill="#2b2b2b" stroke="#2b2b2b" stroke-width="0.25" stroke-linejoin="round" >LiF-Li</text>
<path d="M468.20 203.32v9.36" stroke="#909090" stroke-width="0.9"/>
<text x="473.64" y="211.69" font-family='"Liberation Sans", sans-serif' font-size="11.7" text-anchor="start" fill="#2b2b2b" stroke="#2b2b2b" stroke-width="0.25" stroke-linejoin="round" >LiF-Li</text>
<rect x="47.20" y="352.30" width="190.00" height="139.70" fill="none" stroke="#858585" stroke-width="1.3"/>
<path d="M46.90 492.00v-2.5M99.10 492.00v-2.5M151.30 492.00v-2.5M203.50 492.00v-2.5" stroke="#858585" stroke-width="1"/>
<path d="M73.00 492.00v-1.5M125.20 492.00v-1.5M177.40 492.00v-1.5M229.60 492.00v-1.5" stroke="#858585" stroke-width="1"/>
<path d="M47.20 488.60h2.5M47.20 454.45h2.5M47.20 420.30h2.5M47.20 386.15h2.5M47.20 352.00h2.5" stroke="#858585" stroke-width="1"/>
<path d="M47.20 471.53h1.5M47.20 437.38h1.5M47.20 403.23h1.5M47.20 369.08h1.5" stroke="#858585" stroke-width="1"/>
<path d="M237.20 491.60h-2.5M237.20 464.54h-2.5M237.20 437.48h-2.5M237.20 410.42h-2.5M237.20 383.36h-2.5M237.20 356.30h-2.5" stroke="#858585" stroke-width="1"/>
<path d="M237.20 478.07h-1.5M237.20 451.01h-1.5M237.20 423.95h-1.5M237.20 396.89h-1.5M237.20 369.83h-1.5" stroke="#858585" stroke-width="1"/>
<text x="46.90" y="504.45" font-family='"Liberation Sans", sans-serif' font-size="10.2" text-anchor="middle" fill="#2b2b2b" stroke="#2b2b2b" stroke-width="0.25" stroke-linejoin="round" >0</text>
<text x="99.10" y="504.45" font-family='"Liberation Sans", sans-serif' font-size="10.2" text-anchor="middle" fill="#2b2b2b" stroke="#2b2b2b" stroke-width="0.25" stroke-linejoin="round" >20</text>
<text x="151.30" y="504.45" font-family='"Liberation Sans", sans-serif' font-size="10.2" text-anchor="middle" fill="#2b2b2b" stroke="#2b2b2b" stroke-width="0.25" stroke-linejoin="round" >40</text>
<text x="203.50" y="504.45" font-family='"Liberation Sans", sans-serif' font-size="10.2" text-anchor="middle" fill="#2b2b2b" stroke="#2b2b2b" stroke-width="0.25" stroke-linejoin="round" >60</text>
<text x="44.00" y="492.25" font-family='"Liberation Sans", sans-serif' font-size="10.2" text-anchor="end" fill="#2b2b2b" stroke="#2b2b2b" stroke-width="0.25" stroke-linejoin="round" >0</text>
<text x="44.00" y="458.10" font-family='"Liberation Sans", sans-serif' font-size="10.2" text-anchor="end" fill="#2b2b2b" stroke="#2b2b2b" stroke-width="0.25" stroke-linejoin="round" >50</text>
<text x="44.00" y="423.95" font-family='"Liberation Sans", sans-serif' font-size="10.2" text-anchor="end" fill="#2b2b2b" stroke="#2b2b2b" stroke-width="0.25" stroke-linejoin="round" >100</text>
<text x="44.00" y="389.80" font-family='"Liberation Sans", sans-serif' font-size="10.2" text-anchor="end" fill="#2b2b2b" stroke="#2b2b2b" stroke-width="0.25" stroke-linejoin="round" >150</text>
<text x="44.00" y="355.65" font-family='"Liberation Sans", sans-serif' font-size="10.2" text-anchor="end" fill="#2b2b2b" stroke="#2b2b2b" stroke-width="0.25" stroke-linejoin="round" >200</text>
<text x="240.00" y="495.25" font-family='"Liberation Sans", sans-serif' font-size="10.2" text-anchor="start" fill="#2b2b2b" stroke="#2b2b2b" stroke-width="0.25" stroke-linejoin="round" >0</text>
<text x="240.00" y="468.19" font-family='"Liberation Sans", sans-serif' font-size="10.2" text-anchor="start" fill="#2b2b2b" stroke="#2b2b2b" stroke-width="0.25" stroke-linejoin="round" >20</text>
<text x="240.00" y="441.13" font-family='"Liberation Sans", sans-serif' font-size="10.2" text-anchor="start" fill="#2b2b2b" stroke="#2b2b2b" stroke-width="0.25" stroke-linejoin="round" >40</text>
<text x="240.00" y="414.07" font-family='"Liberation Sans", sans-serif' font-size="10.2" text-anchor="start" fill="#2b2b2b" stroke="#2b2b2b" stroke-width="0.25" stroke-linejoin="round" >60</text>
<text x="240.00" y="387.01" font-family='"Liberation Sans", sans-serif' font-size="10.2" text-anchor="start" fill="#2b2b2b" stroke="#2b2b2b" stroke-width="0.25" stroke-linejoin="round" >80</text>
<text x="240.00" y="359.95" font-family='"Liberation Sans", sans-serif' font-size="10.2" text-anchor="start" fill="#2b2b2b" stroke="#2b2b2b" stroke-width="0.25" stroke-linejoin="round" >100</text>
<text x="152.30" y="515.67" font-family='"Liberation Sans", sans-serif' font-size="12.2" text-anchor="middle" fill="#2b2b2b" stroke="#2b2b2b" stroke-width="0.25" stroke-linejoin="round" >Cycle Number</text>
<text transform="translate(19.90,491.50) rotate(-90)" x="-0.90" y="0" font-family='"Liberation Sans", sans-serif' font-size="11.0" fill="#2b2b2b" stroke="#2b2b2b" stroke-width="0.25" stroke-linejoin="round">Discharge capacity (mAh g<tspan dy="-6.82" font-size="6.60">-1</tspan><tspan dy="6.82">)</tspan></text>
<text transform="translate(268.70,492.20) rotate(-90)" x="-0.62" y="0" font-family='"Liberation Sans", sans-serif' font-size="12.2" fill="#2b2b2b" stroke="#2b2b2b" stroke-width="0.25" stroke-linejoin="round">Coulombic Efficiency (%)</text>
<text x="20.00" y="347.09" font-family='"Liberation Serif", serif' font-size="14.5" text-anchor="middle" fill="#2b2b2b" stroke="#2b2b2b" stroke-width="0.25" stroke-linejoin="round" >(e)</text>
<g opacity="0.7">
<circle cx="54.73" cy="357.98" r="1.05" fill="#45b8f3"/>
<circle cx="57.34" cy="356.91" r="1.05" fill="#45b8f3"/>
<circle cx="59.95" cy="358.00" r="1.05" fill="#45b8f3"/>
<circle cx="62.56" cy="358.16" r="1.05" fill="#45b8f3"/>
<circle cx="65.17" cy="356.87" r="1.05" fill="#45b8f3"/>
<circle cx="67.78" cy="357.25" r="1.05" fill="#45b8f3"/>
<circle cx="70.39" cy="357.70" r="1.05" fill="#45b8f3"/>
<circle cx="73.00" cy="357.15" r="1.05" fill="#45b8f3"/>
<circle cx="75.61" cy="357.14" r="1.05" fill="#45b8f3"/>
<circle cx="78.22" cy="357.89" r="1.05" fill="#45b8f3"/>
<circle cx="83.44" cy="356.86" r="1.05" fill="#45b8f3"/>
<circle cx="86.05" cy="357.10" r="1.05" fill="#45b8f3"/>
<circle cx="88.66" cy="357.19" r="1.05" fill="#45b8f3"/>
<circle cx="91.27" cy="357.49" r="1.05" fill="#45b8f3"/>
<circle cx="93.88" cy="358.15" r="1.05" fill="#45b8f3"/>
<circle cx="96.49" cy="357.82" r="1.05" fill="#45b8f3"/>
<circle cx="99.10" cy="357.26" r="1.05" fill="#45b8f3"/>
<circle cx="101.71" cy="357.59" r="1.05" fill="#45b8f3"/>
<circle cx="104.32" cy="356.86" r="1.05" fill="#45b8f3"/>
<circle cx="109.54" cy="357.70" r="1.05" fill="#45b8f3"/>
<circle cx="112.15" cy="357.89" r="1.05" fill="#45b8f3"/>
<circle cx="114.76" cy="357.92" r="1.05" fill="#45b8f3"/>
<circle cx="117.37" cy="356.98" r="1.05" fill="#45b8f3"/>
<circle cx="119.98" cy="357.55" r="1.05" fill="#45b8f3"/>
<circle cx="122.59" cy="357.11" r="1.05" fill="#45b8f3"/>
<circle cx="125.20" cy="357.30" r="1.05" fill="#45b8f3"/>
<circle cx="127.81" cy="357.14" r="1.05" fill="#45b8f3"/>
<circle cx="130.42" cy="357.55" r="1.05" fill="#45b8f3"/>
<circle cx="135.64" cy="358.21" r="1.05" fill="#45b8f3"/>
<circle cx="138.25" cy="358.19" r="1.05" fill="#45b8f3"/>
<circle cx="140.86" cy="358.74" r="1.05" fill="#45b8f3"/>
<circle cx="143.47" cy="358.00" r="1.05" fill="#45b8f3"/>
<circle cx="146.08" cy="359.05" r="1.05" fill="#45b8f3"/>
<circle cx="148.69" cy="359.07" r="1.05" fill="#45b8f3"/>
<circle cx="151.30" cy="358.19" r="1.05" fill="#45b8f3"/>
<circle cx="153.91" cy="358.16" r="1.05" fill="#45b8f3"/>
<circle cx="156.52" cy="358.39" r="1.05" fill="#45b8f3"/>
<circle cx="161.74" cy="358.53" r="1.05" fill="#45b8f3"/>
<circle cx="164.35" cy="359.26" r="1.05" fill="#45b8f3"/>
<circle cx="166.96" cy="358.40" r="1.05" fill="#45b8f3"/>
<circle cx="169.57" cy="358.01" r="1.05" fill="#45b8f3"/>
<circle cx="172.18" cy="358.10" r="1.05" fill="#45b8f3"/>
<circle cx="174.79" cy="358.99" r="1.05" fill="#45b8f3"/>
<circle cx="177.40" cy="358.88" r="1.05" fill="#45b8f3"/>
<circle cx="180.01" cy="358.48" r="1.05" fill="#45b8f3"/>
<circle cx="182.62" cy="358.71" r="1.05" fill="#45b8f3"/>
<circle cx="187.84" cy="358.05" r="1.05" fill="#45b8f3"/>
<circle cx="190.45" cy="358.66" r="1.05" fill="#45b8f3"/>
<circle cx="193.06" cy="358.05" r="1.05" fill="#45b8f3"/>
<circle cx="195.67" cy="358.03" r="1.05" fill="#45b8f3"/>
<circle cx="198.28" cy="358.56" r="1.05" fill="#45b8f3"/>
<circle cx="200.89" cy="359.25" r="1.05" fill="#45b8f3"/>
<circle cx="203.50" cy="359.03" r="1.05" fill="#45b8f3"/>
<circle cx="206.11" cy="358.20" r="1.05" fill="#45b8f3"/>
<circle cx="208.72" cy="358.64" r="1.05" fill="#45b8f3"/>
<circle cx="213.94" cy="357.44" r="1.05" fill="#45b8f3"/>
<circle cx="216.55" cy="357.49" r="1.05" fill="#45b8f3"/>
<circle cx="219.16" cy="357.13" r="1.05" fill="#45b8f3"/>
<circle cx="221.77" cy="357.44" r="1.05" fill="#45b8f3"/>
<circle cx="224.38" cy="357.82" r="1.05" fill="#45b8f3"/>
<circle cx="226.99" cy="357.51" r="1.05" fill="#45b8f3"/>
<circle cx="229.60" cy="357.17" r="1.05" fill="#45b8f3"/>
<circle cx="232.21" cy="357.59" r="1.05" fill="#45b8f3"/>
<circle cx="234.82" cy="357.51" r="1.05" fill="#45b8f3"/>
<circle cx="49.77" cy="368.48" r="1.05" fill="#45b8f3"/>
<circle cx="52.12" cy="363.74" r="1.05" fill="#45b8f3"/>
<circle cx="54.73" cy="356.17" r="1.05" fill="#f9a347"/>
<circle cx="57.34" cy="356.82" r="1.05" fill="#f9a347"/>
<circle cx="59.95" cy="356.41" r="1.05" fill="#f9a347"/>
<circle cx="62.56" cy="356.40" r="1.05" fill="#f9a347"/>
<circle cx="65.17" cy="356.41" r="1.05" fill="#f9a347"/>
<circle cx="67.78" cy="356.14" r="1.05" fill="#f9a347"/>
<circle cx="70.39" cy="356.63" r="1.05" fill="#f9a347"/>
<circle cx="73.00" cy="356.71" r="1.05" fill="#f9a347"/>
<circle cx="75.61" cy="356.41" r="1.05" fill="#f9a347"/>
<circle cx="78.22" cy="356.57" r="1.05" fill="#f9a347"/>
<circle cx="83.44" cy="356.18" r="1.05" fill="#f9a347"/>
<circle cx="86.05" cy="356.15" r="1.05" fill="#f9a347"/>
<circle cx="88.66" cy="356.18" r="1.05" fill="#f9a347"/>
<circle cx="91.27" cy="356.66" r="1.05" fill="#f9a347"/>
<circle cx="93.88" cy="356.55" r="1.05" fill="#f9a347"/>
<circle cx="96.49" cy="356.82" r="1.05" fill="#f9a347"/>
<circle cx="99.10" cy="356.63" r="1.05" fill="#f9a347"/>
<circle cx="101.71" cy="356.06" r="1.05" fill="#f9a347"/>
<circle cx="104.32" cy="356.08" r="1.05" fill="#f9a347"/>
<circle cx="109.54" cy="356.07" r="1.05" fill="#f9a347"/>
<circle cx="112.15" cy="356.66" r="1.05" fill="#f9a347"/>
<circle cx="114.76" cy="356.68" r="1.05" fill="#f9a347"/>
<circle cx="117.37" cy="356.33" r="1.05" fill="#f9a347"/>
<circle cx="119.98" cy="356.16" r="1.05" fill="#f9a347"/>
<circle cx="122.59" cy="356.31" r="1.05" fill="#f9a347"/>
<circle cx="125.20" cy="356.77" r="1.05" fill="#f9a347"/>
<circle cx="127.81" cy="356.10" r="1.05" fill="#f9a347"/>
<circle cx="130.42" cy="356.23" r="1.05" fill="#f9a347"/>
<circle cx="135.64" cy="356.70" r="1.05" fill="#f9a347"/>
<circle cx="138.25" cy="356.57" r="1.05" fill="#f9a347"/>
<circle cx="140.86" cy="356.05" r="1.05" fill="#f9a347"/>
<circle cx="143.47" cy="356.52" r="1.05" fill="#f9a347"/>
<circle cx="146.08" cy="356.25" r="1.05" fill="#f9a347"/>
<circle cx="148.69" cy="356.74" r="1.05" fill="#f9a347"/>
<circle cx="151.30" cy="356.11" r="1.05" fill="#f9a347"/>
<circle cx="153.91" cy="356.72" r="1.05" fill="#f9a347"/>
<circle cx="156.52" cy="356.05" r="1.05" fill="#f9a347"/>
<circle cx="161.74" cy="356.56" r="1.05" fill="#f9a347"/>
<circle cx="164.35" cy="356.73" r="1.05" fill="#f9a347"/>
<circle cx="166.96" cy="356.05" r="1.05" fill="#f9a347"/>
<circle cx="169.57" cy="356.41" r="1.05" fill="#f9a347"/>
<circle cx="172.18" cy="356.49" r="1.05" fill="#f9a347"/>
<circle cx="174.79" cy="356.17" r="1.05" fill="#f9a347"/>
<circle cx="177.40" cy="356.64" r="1.05" fill="#f9a347"/>
<circle cx="180.01" cy="356.65" r="1.05" fill="#f9a347"/>
<circle cx="182.62" cy="356.63" r="1.05" fill="#f9a347"/>
<circle cx="187.84" cy="356.73" r="1.05" fill="#f9a347"/>
<circle cx="190.45" cy="356.55" r="1.05" fill="#f9a347"/>
<circle cx="193.06" cy="356.37" r="1.05" fill="#f9a347"/>
<circle cx="195.67" cy="356.50" r="1.05" fill="#f9a347"/>
<circle cx="198.28" cy="356.43" r="1.05" fill="#f9a347"/>
<circle cx="200.89" cy="356.42" r="1.05" fill="#f9a347"/>
<circle cx="203.50" cy="356.48" r="1.05" fill="#f9a347"/>
<circle cx="206.11" cy="356.84" r="1.05" fill="#f9a347"/>
<circle cx="208.72" cy="356.70" r="1.05" fill="#f9a347"/>
<circle cx="213.94" cy="356.25" r="1.05" fill="#f9a347"/>
<circle cx="216.55" cy="356.58" r="1.05" fill="#f9a347"/>
<circle cx="219.16" cy="356.39" r="1.05" fill="#f9a347"/>
<circle cx="221.77" cy="356.76" r="1.05" fill="#f9a347"/>
<circle cx="224.38" cy="356.64" r="1.05" fill="#f9a347"/>
<circle cx="226.99" cy="356.21" r="1.05" fill="#f9a347"/>
<circle cx="229.60" cy="356.39" r="1.05" fill="#f9a347"/>
<circle cx="232.21" cy="356.10" r="1.05" fill="#f9a347"/>
<circle cx="234.82" cy="356.34" r="1.05" fill="#f9a347"/>
<circle cx="49.77" cy="361.04" r="1.05" fill="#f9a347"/>
<circle cx="51.86" cy="356.98" r="1.05" fill="#f9a347"/>
</g>
<circle cx="54.73" cy="392.86" r="1.15" fill="#45b8f3"/>
<circle cx="57.34" cy="392.92" r="1.15" fill="#45b8f3"/>
<circle cx="59.95" cy="392.68" r="1.15" fill="#45b8f3"/>
<circle cx="62.56" cy="392.56" r="1.15" fill="#45b8f3"/>
<circle cx="65.17" cy="392.62" r="1.15" fill="#45b8f3"/>
<circle cx="67.78" cy="392.91" r="1.15" fill="#45b8f3"/>
<circle cx="70.39" cy="392.30" r="1.15" fill="#45b8f3"/>
<circle cx="73.00" cy="392.80" r="1.15" fill="#45b8f3"/>
<circle cx="75.61" cy="392.20" r="1.15" fill="#45b8f3"/>
<circle cx="78.22" cy="392.65" r="1.15" fill="#45b8f3"/>
<circle cx="80.83" cy="397.79" r="1.15" fill="#45b8f3"/>
<circle cx="83.44" cy="397.59" r="1.15" fill="#45b8f3"/>
<circle cx="86.05" cy="397.73" r="1.15" fill="#45b8f3"/>
<circle cx="88.66" cy="397.16" r="1.15" fill="#45b8f3"/>
<circle cx="91.27" cy="397.35" r="1.15" fill="#45b8f3"/>
<circle cx="93.88" cy="397.52" r="1.15" fill="#45b8f3"/>
<circle cx="96.49" cy="397.78" r="1.15" fill="#45b8f3"/>
<circle cx="99.10" cy="397.66" r="1.15" fill="#45b8f3"/>
<circle cx="101.71" cy="397.48" r="1.15" fill="#45b8f3"/>
<circle cx="104.32" cy="397.35" r="1.15" fill="#45b8f3"/>
<circle cx="106.93" cy="403.39" r="1.15" fill="#45b8f3"/>
<circle cx="109.54" cy="403.06" r="1.15" fill="#45b8f3"/>
<circle cx="112.15" cy="403.16" r="1.15" fill="#45b8f3"/>
<circle cx="114.76" cy="402.92" r="1.15" fill="#45b8f3"/>
<circle cx="117.37" cy="403.40" r="1.15" fill="#45b8f3"/>
<circle cx="119.98" cy="403.54" r="1.15" fill="#45b8f3"/>
<circle cx="122.59" cy="403.01" r="1.15" fill="#45b8f3"/>
<circle cx="125.20" cy="403.23" r="1.15" fill="#45b8f3"/>
<circle cx="127.81" cy="403.09" r="1.15" fill="#45b8f3"/>
<circle cx="130.42" cy="403.17" r="1.15" fill="#45b8f3"/>
<circle cx="133.03" cy="413.81" r="1.15" fill="#45b8f3"/>
<circle cx="135.64" cy="415.81" r="1.15" fill="#45b8f3"/>
<circle cx="138.25" cy="416.83" r="1.15" fill="#45b8f3"/>
<circle cx="140.86" cy="417.35" r="1.15" fill="#45b8f3"/>
<circle cx="143.47" cy="417.62" r="1.15" fill="#45b8f3"/>
<circle cx="146.08" cy="417.76" r="1.15" fill="#45b8f3"/>
<circle cx="148.69" cy="417.83" r="1.15" fill="#45b8f3"/>
<circle cx="151.30" cy="417.87" r="1.15" fill="#45b8f3"/>
<circle cx="153.91" cy="417.89" r="1.15" fill="#45b8f3"/>
<circle cx="156.52" cy="417.90" r="1.15" fill="#45b8f3"/>
<circle cx="159.13" cy="430.16" r="1.15" fill="#45b8f3"/>
<circle cx="161.74" cy="430.03" r="1.15" fill="#45b8f3"/>
<circle cx="164.35" cy="430.15" r="1.15" fill="#45b8f3"/>
<circle cx="166.96" cy="429.60" r="1.15" fill="#45b8f3"/>
<circle cx="169.57" cy="430.01" r="1.15" fill="#45b8f3"/>
<circle cx="172.18" cy="431.31" r="1.15" fill="#45b8f3"/>
<circle cx="174.79" cy="431.79" r="1.15" fill="#45b8f3"/>
<circle cx="177.40" cy="431.58" r="1.15" fill="#45b8f3"/>
<circle cx="180.01" cy="431.91" r="1.15" fill="#45b8f3"/>
<circle cx="182.62" cy="431.52" r="1.15" fill="#45b8f3"/>
<circle cx="185.23" cy="446.10" r="1.15" fill="#45b8f3"/>
<circle cx="187.84" cy="446.16" r="1.15" fill="#45b8f3"/>
<circle cx="190.45" cy="446.62" r="1.15" fill="#45b8f3"/>
<circle cx="193.06" cy="446.02" r="1.15" fill="#45b8f3"/>
<circle cx="195.67" cy="446.01" r="1.15" fill="#45b8f3"/>
<circle cx="198.28" cy="446.34" r="1.15" fill="#45b8f3"/>
<circle cx="200.89" cy="446.14" r="1.15" fill="#45b8f3"/>
<circle cx="203.50" cy="446.61" r="1.15" fill="#45b8f3"/>
<circle cx="206.11" cy="446.53" r="1.15" fill="#45b8f3"/>
<circle cx="208.72" cy="446.62" r="1.15" fill="#45b8f3"/>
<circle cx="211.33" cy="390.93" r="1.15" fill="#45b8f3"/>
<circle cx="213.94" cy="391.34" r="1.15" fill="#45b8f3"/>
<circle cx="216.55" cy="391.75" r="1.15" fill="#45b8f3"/>
<circle cx="219.16" cy="392.16" r="1.15" fill="#45b8f3"/>
<circle cx="221.77" cy="392.57" r="1.15" fill="#45b8f3"/>
<circle cx="224.38" cy="392.98" r="1.15" fill="#45b8f3"/>
<circle cx="226.99" cy="393.39" r="1.15" fill="#45b8f3"/>
<circle cx="229.60" cy="393.80" r="1.15" fill="#45b8f3"/>
<circle cx="232.21" cy="394.21" r="1.15" fill="#45b8f3"/>
<circle cx="234.82" cy="394.62" r="1.15" fill="#45b8f3"/>
<circle cx="49.77" cy="382.33" r="1.15" fill="#45b8f3"/>
<circle cx="52.90" cy="380.96" r="1.15" fill="#45b8f3"/>
<circle cx="54.73" cy="388.43" r="1.15" fill="#f9a347"/>
<circle cx="57.34" cy="388.25" r="1.15" fill="#f9a347"/>
<circle cx="59.95" cy="388.32" r="1.15" fill="#f9a347"/>
<circle cx="62.56" cy="388.58" r="1.15" fill="#f9a347"/>
<circle cx="65.17" cy="388.59" r="1.15" fill="#f9a347"/>
<circle cx="67.78" cy="388.57" r="1.15" fill="#f9a347"/>
<circle cx="70.39" cy="388.38" r="1.15" fill="#f9a347"/>
<circle cx="73.00" cy="388.54" r="1.15" fill="#f9a347"/>
<circle cx="75.61" cy="388.27" r="1.15" fill="#f9a347"/>
<circle cx="78.22" cy="388.29" r="1.15" fill="#f9a347"/>
<circle cx="80.83" cy="394.22" r="1.15" fill="#f9a347"/>
<circle cx="83.44" cy="394.29" r="1.15" fill="#f9a347"/>
<circle cx="86.05" cy="394.68" r="1.15" fill="#f9a347"/>
<circle cx="88.66" cy="394.59" r="1.15" fill="#f9a347"/>
<circle cx="91.27" cy="394.66" r="1.15" fill="#f9a347"/>
<circle cx="93.88" cy="394.41" r="1.15" fill="#f9a347"/>
<circle cx="96.49" cy="394.46" r="1.15" fill="#f9a347"/>
<circle cx="99.10" cy="394.72" r="1.15" fill="#f9a347"/>
<circle cx="101.71" cy="394.38" r="1.15" fill="#f9a347"/>
<circle cx="104.32" cy="394.58" r="1.15" fill="#f9a347"/>
<circle cx="106.93" cy="399.84" r="1.15" fill="#f9a347"/>
<circle cx="109.54" cy="399.65" r="1.15" fill="#f9a347"/>
<circle cx="112.15" cy="399.95" r="1.15" fill="#f9a347"/>
<circle cx="114.76" cy="399.80" r="1.15" fill="#f9a347"/>
<circle cx="117.37" cy="399.68" r="1.15" fill="#f9a347"/>
<circle cx="119.98" cy="399.55" r="1.15" fill="#f9a347"/>
<circle cx="122.59" cy="399.85" r="1.15" fill="#f9a347"/>
<circle cx="125.20" cy="400.00" r="1.15" fill="#f9a347"/>
<circle cx="127.81" cy="400.06" r="1.15" fill="#f9a347"/>
<circle cx="130.42" cy="399.67" r="1.15" fill="#f9a347"/>
<circle cx="133.03" cy="408.01" r="1.15" fill="#f9a347"/>
<circle cx="135.64" cy="408.10" r="1.15" fill="#f9a347"/>
<circle cx="138.25" cy="408.17" r="1.15" fill="#f9a347"/>
<circle cx="140.86" cy="408.03" r="1.15" fill="#f9a347"/>
<circle cx="143.47" cy="408.23" r="1.15" fill="#f9a347"/>
<circle cx="146.08" cy="408.45" r="1.15" fill="#f9a347"/>
<circle cx="148.69" cy="408.13" r="1.15" fill="#f9a347"/>
<circle cx="151.30" cy="408.04" r="1.15" fill="#f9a347"/>
<circle cx="153.91" cy="408.27" r="1.15" fill="#f9a347"/>
<circle cx="156.52" cy="408.47" r="1.15" fill="#f9a347"/>
<circle cx="159.13" cy="420.48" r="1.15" fill="#f9a347"/>
<circle cx="161.74" cy="420.15" r="1.15" fill="#f9a347"/>
<circle cx="164.35" cy="420.36" r="1.15" fill="#f9a347"/>
<circle cx="166.96" cy="420.33" r="1.15" fill="#f9a347"/>
<circle cx="169.57" cy="420.13" r="1.15" fill="#f9a347"/>
<circle cx="172.18" cy="420.35" r="1.15" fill="#f9a347"/>
<circle cx="174.79" cy="420.05" r="1.15" fill="#f9a347"/>
<circle cx="177.40" cy="420.45" r="1.15" fill="#f9a347"/>
<circle cx="180.01" cy="420.25" r="1.15" fill="#f9a347"/>
<circle cx="182.62" cy="420.34" r="1.15" fill="#f9a347"/>
<circle cx="185.23" cy="433.03" r="1.15" fill="#f9a347"/>
<circle cx="187.84" cy="433.27" r="1.15" fill="#f9a347"/>
<circle cx="190.45" cy="433.18" r="1.15" fill="#f9a347"/>
<circle cx="193.06" cy="433.06" r="1.15" fill="#f9a347"/>
<circle cx="195.67" cy="433.07" r="1.15" fill="#f9a347"/>
<circle cx="198.28" cy="433.34" r="1.15" fill="#f9a347"/>
<circle cx="200.89" cy="433.49" r="1.15" fill="#f9a347"/>
<circle cx="203.50" cy="433.52" r="1.15" fill="#f9a347"/>
<circle cx="206.11" cy="433.44" r="1.15" fill="#f9a347"/>
<circle cx="208.72" cy="433.36" r="1.15" fill="#f9a347"/>
<circle cx="211.33" cy="388.61" r="1.15" fill="#f9a347"/>
<circle cx="213.94" cy="388.55" r="1.15" fill="#f9a347"/>
<circle cx="216.55" cy="388.59" r="1.15" fill="#f9a347"/>
<circle cx="219.16" cy="388.27" r="1.15" fill="#f9a347"/>
<circle cx="221.77" cy="388.47" r="1.15" fill="#f9a347"/>
<circle cx="224.38" cy="388.41" r="1.15" fill="#f9a347"/>
<circle cx="226.99" cy="388.14" r="1.15" fill="#f9a347"/>
<circle cx="229.60" cy="388.35" r="1.15" fill="#f9a347"/>
<circle cx="232.21" cy="388.56" r="1.15" fill="#f9a347"/>
<circle cx="234.82" cy="388.42" r="1.15" fill="#f9a347"/>
<circle cx="49.77" cy="376.31" r="1.15" fill="#f9a347"/>
<circle cx="52.90" cy="375.36" r="1.15" fill="#f9a347"/>
<text x="68.10" y="385.93" font-family='"Liberation Sans", sans-serif' font-size="10.4" text-anchor="middle" fill="#2b2b2b" stroke="#2b2b2b" stroke-width="0.25" stroke-linejoin="round" >1C</text>
<text x="94.30" y="392.33" font-family='"Liberation Sans", sans-serif' font-size="10.4" text-anchor="middle" fill="#2b2b2b" stroke="#2b2b2b" stroke-width="0.25" stroke-linejoin="round" >2C</text>
<text x="121.20" y="397.03" font-family='"Liberation Sans", sans-serif' font-size="10.4" text-anchor="middle" fill="#2b2b2b" stroke="#2b2b2b" stroke-width="0.25" stroke-linejoin="round" >3C</text>
<text x="147.40" y="405.43" font-family='"Liberation Sans", sans-serif' font-size="10.4" text-anchor="middle" fill="#2b2b2b" stroke="#2b2b2b" stroke-width="0.25" stroke-linejoin="round" >5C</text>
<text x="172.50" y="417.03" font-family='"Liberation Sans", sans-serif' font-size="10.4" text-anchor="middle" fill="#2b2b2b" stroke="#2b2b2b" stroke-width="0.25" stroke-linejoin="round" >10C</text>
<text x="199.30" y="430.53" font-family='"Liberation Sans", sans-serif' font-size="10.4" text-anchor="middle" fill="#2b2b2b" stroke="#2b2b2b" stroke-width="0.25" stroke-linejoin="round" >20C</text>
<text x="225.00" y="384.83" font-family='"Liberation Sans", sans-serif' font-size="10.4" text-anchor="middle" fill="#2b2b2b" stroke="#2b2b2b" stroke-width="0.25" stroke-linejoin="round" >1C</text>
<circle cx="68.50" cy="460.30" r="1.2" fill="#45b8f3"/>
<circle cx="68.50" cy="477.70" r="1.2" fill="#f9a347"/>
<text x="87.00" y="465.14" font-family='"Liberation Sans", sans-serif' font-size="13.8" text-anchor="start" fill="#2b2b2b" stroke="#2b2b2b" stroke-width="0.25" stroke-linejoin="round" >Li</text>
<path d="M103.60 455.18v11.04" stroke="#909090" stroke-width="0.9"/>
<text x="110.47" y="465.14" font-family='"Liberation Sans", sans-serif' font-size="13.8" text-anchor="start" fill="#2b2b2b" stroke="#2b2b2b" stroke-width="0.25" stroke-linejoin="round" >LFP</text>
<text x="87.00" y="481.84" font-family='"Liberation Sans", sans-serif' font-size="13.8" text-anchor="start" fill="#2b2b2b" stroke="#2b2b2b" stroke-width="0.25" stroke-linejoin="round" >LiF-Li</text>
<path d="M128.00 471.88v11.04" stroke="#909090" stroke-width="0.9"/>
<text x="134.47" y="481.84" font-family='"Liberation Sans", sans-serif' font-size="13.8" text-anchor="start" fill="#2b2b2b" stroke="#2b2b2b" stroke-width="0.25" stroke-linejoin="round" >LFP</text>
<rect x="319.50" y="352.80" width="189.90" height="139.00" fill="none" stroke="#858585" stroke-width="1.3"/>
<path d="M365.40 491.80v-2.5M413.10 491.80v-2.5M460.80 491.80v-2.5M508.50 491.80v-2.5" stroke="#858585" stroke-width="1"/>
<path d="M341.55 491.80v-1.5M389.25 491.80v-1.5M436.95 491.80v-1.5M484.65 491.80v-1.5" stroke="#858585" stroke-width="1"/>
<path d="M319.50 491.60h2.5M319.50 463.90h2.5M319.50 436.20h2.5M319.50 408.50h2.5M319.50 380.80h2.5M319.50 353.10h2.5" stroke="#858585" stroke-width="1"/>
<path d="M319.50 477.75h1.5M319.50 450.05h1.5M319.50 422.35h1.5M319.50 394.65h1.5M319.50 366.95h1.5" stroke="#858585" stroke-width="1"/>
<path d="M509.40 491.60h-2.5M509.40 465.16h-2.5M509.40 438.72h-2.5M509.40 412.28h-2.5M509.40 385.84h-2.5M509.40 359.40h-2.5" stroke="#858585" stroke-width="1"/>
<path d="M509.40 478.38h-1.5M509.40 451.94h-1.5M509.40 425.50h-1.5M509.40 399.06h-1.5M509.40 372.62h-1.5" stroke="#858585" stroke-width="1"/>
<text x="365.40" y="504.45" font-family='"Liberation Sans", sans-serif' font-size="10.2" text-anchor="middle" fill="#2b2b2b" stroke="#2b2b2b" stroke-width="0.25" stroke-linejoin="round" >30</text>
<text x="413.10" y="504.45" font-family='"Liberation Sans", sans-serif' font-size="10.2" text-anchor="middle" fill="#2b2b2b" stroke="#2b2b2b" stroke-width="0.25" stroke-linejoin="round" >60</text>
<text x="460.80" y="504.45" font-family='"Liberation Sans", sans-serif' font-size="10.2" text-anchor="middle" fill="#2b2b2b" stroke="#2b2b2b" stroke-width="0.25" stroke-linejoin="round" >90</text>
<text x="508.50" y="504.45" font-family='"Liberation Sans", sans-serif' font-size="10.2" text-anchor="middle" fill="#2b2b2b" stroke="#2b2b2b" stroke-width="0.25" stroke-linejoin="round" >120</text>
<text x="316.00" y="495.25" font-family='"Liberation Sans", sans-serif' font-size="10.2" text-anchor="end" fill="#2b2b2b" stroke="#2b2b2b" stroke-width="0.25" stroke-linejoin="round" >100</text>
<text x="316.00" y="467.55" font-family='"Liberation Sans", sans-serif' font-size="10.2" text-anchor="end" fill="#2b2b2b" stroke="#2b2b2b" stroke-width="0.25" stroke-linejoin="round" >120</text>
<text x="316.00" y="439.85" font-family='"Liberation Sans", sans-serif' font-size="10.2" text-anchor="end" fill="#2b2b2b" stroke="#2b2b2b" stroke-width="0.25" stroke-linejoin="round" >140</text>
<text x="316.00" y="412.15" font-family='"Liberation Sans", sans-serif' font-size="10.2" text-anchor="end" fill="#2b2b2b" stroke="#2b2b2b" stroke-width="0.25" stroke-linejoin="round" >160</text>
<text x="316.00" y="384.45" font-family='"Liberation Sans", sans-serif' font-size="10.2" text-anchor="end" fill="#2b2b2b" stroke="#2b2b2b" stroke-width="0.25" stroke-linejoin="round" >180</text>
<text x="316.00" y="356.75" font-family='"Liberation Sans", sans-serif' font-size="10.2" text-anchor="end" fill="#2b2b2b" stroke="#2b2b2b" stroke-width="0.25" stroke-linejoin="round" >200</text>
<text x="512.00" y="495.25" font-family='"Liberation Sans", sans-serif' font-size="10.2" text-anchor="start" fill="#2b2b2b" stroke="#2b2b2b" stroke-width="0.25" stroke-linejoin="round" >0</text>
<text x="512.00" y="468.81" font-family='"Liberation Sans", sans-serif' font-size="10.2" text-anchor="start" fill="#2b2b2b" stroke="#2b2b2b" stroke-width="0.25" stroke-linejoin="round" >20</text>
<text x="512.00" y="442.37" font-family='"Liberation Sans", sans-serif' font-size="10.2" text-anchor="start" fill="#2b2b2b" stroke="#2b2b2b" stroke-width="0.25" stroke-linejoin="round" >40</text>
<text x="512.00" y="415.93" font-family='"Liberation Sans", sans-serif' font-size="10.2" text-anchor="start" fill="#2b2b2b" stroke="#2b2b2b" stroke-width="0.25" stroke-linejoin="round" >60</text>
<text x="512.00" y="389.49" font-family='"Liberation Sans", sans-serif' font-size="10.2" text-anchor="start" fill="#2b2b2b" stroke="#2b2b2b" stroke-width="0.25" stroke-linejoin="round" >80</text>
<text x="512.00" y="363.05" font-family='"Liberation Sans", sans-serif' font-size="10.2" text-anchor="start" fill="#2b2b2b" stroke="#2b2b2b" stroke-width="0.25" stroke-linejoin="round" >100</text>
<text x="414.70" y="515.77" font-family='"Liberation Sans", sans-serif' font-size="12.2" text-anchor="middle" fill="#2b2b2b" stroke="#2b2b2b" stroke-width="0.25" stroke-linejoin="round" >Cycle Number</text>
<text transform="translate(289.20,490.50) rotate(-90)" x="-0.89" y="0" font-family='"Liberation Sans", sans-serif' font-size="10.9" fill="#2b2b2b" stroke="#2b2b2b" stroke-width="0.25" stroke-linejoin="round">Discharge capacity (mAh g<tspan dy="-6.76" font-size="6.54">-1</tspan><tspan dy="6.76">)</tspan></text>
<text transform="translate(541.70,486.20) rotate(-90)" x="-0.62" y="0" font-family='"Liberation Sans", sans-serif' font-size="12.2" fill="#2b2b2b" stroke="#2b2b2b" stroke-width="0.25" stroke-linejoin="round">Coulombic Efficiency (%)</text>
<text x="286.40" y="347.99" font-family='"Liberation Serif", serif' font-size="14.5" text-anchor="middle" fill="#2b2b2b" stroke="#2b2b2b" stroke-width="0.25" stroke-linejoin="round" >(f)</text>
<path d="M320.88 360.09 L322.45 360.15 L324.02 359.63 L325.59 360.02 L327.17 360.10 L328.74 360.18 L330.31 359.59 L331.88 359.57 L333.45 359.74 L335.02 360.06 L336.59 360.10 L338.17 360.07 L339.74 359.95 L341.31 360.20 L342.88 359.98 L344.45 360.13 L346.02 359.59 L347.59 359.59 L349.17 359.94 L350.74 360.19 L352.31 359.63 L353.88 360.16 L355.45 360.13 L357.02 360.42 L358.59 360.13 L360.17 360.06 L361.74 360.05 L363.31 360.30 L364.88 360.07 L366.45 360.48 L368.02 360.28 L369.59 360.43 L371.17 360.19 L372.74 360.49 L374.31 360.51 L375.88 360.30 L377.45 360.37 L379.02 360.10 L380.60 360.15 L382.17 359.98 L383.74 360.07 L385.31 360.03 L386.88 359.91 L388.45 360.31 L390.02 360.37 L391.60 359.86 L393.17 360.53 L394.74 360.08 L396.31 360.16 L397.88 360.64 L399.45 360.03 L401.02 359.99 L402.60 360.21 L404.17 360.14 L405.74 360.08 L407.31 360.63 L408.88 360.33 L410.45 360.36 L412.02 360.11 L413.60 360.14 L415.17 360.13 L416.74 360.33 L418.31 360.10 L419.88 360.28 L421.45 360.28 L423.02 360.66 L424.60 360.82 L426.17 360.75 L427.74 360.58 L429.31 360.79 L430.88 360.22 L432.45 360.45 L434.02 360.41 L435.60 360.42 L437.17 360.39 L438.74 360.55 L440.31 360.94 L441.88 360.32 L443.45 360.37 L445.02 360.58 L446.60 360.56 L448.17 360.47 L449.74 360.95 L451.31 360.43 L452.88 360.83 L454.45 360.98 L456.02 360.84 L457.60 360.48 L459.17 360.90 L460.74 360.49 L462.31 360.31 L463.88 360.70 L465.45 360.80 L467.02 360.74 L468.60 360.58 L470.17 360.53 L471.74 360.66 L473.31 360.65 L474.88 361.10 L476.45 361.06 L478.02 360.98 L479.60 360.61 L481.17 360.96 L482.74 360.76 L484.31 361.21 L485.88 361.19 L487.45 361.03 L489.03 360.72 L490.60 360.71 L492.17 360.74 L493.74 361.05 L495.31 360.88 L496.88 360.94 L498.45 360.94 L500.03 361.23 L501.60 360.62 L503.17 361.19 L504.74 360.58 L506.31 360.62 L507.88 361.36 L509.45 361.02" fill="none" stroke="#2aa9f0" stroke-width="1.3" stroke-linejoin="round" opacity="0.6"/>
<path d="M320.88 359.39 L322.45 359.23 L324.02 359.46 L325.59 359.40 L327.17 359.46 L328.74 359.04 L330.31 359.28 L331.88 359.12 L333.45 359.07 L335.02 359.71 L336.59 359.44 L338.17 359.10 L339.74 359.20 L341.31 359.86 L342.88 359.89 L344.45 359.60 L346.02 359.95 L347.59 359.81 L349.17 359.97 L350.74 359.43 L352.31 359.34 L353.88 359.24 L355.45 359.94 L357.02 359.43 L358.59 359.49 L360.17 359.98 L361.74 359.30 L363.31 359.24 L364.88 359.94 L366.45 359.27 L368.02 359.79 L369.59 359.72 L371.17 359.26 L372.74 359.42 L374.31 360.05 L375.88 359.81 L377.45 359.74 L379.02 359.92 L380.60 360.06 L382.17 359.95 L383.74 359.59 L385.31 360.25 L386.88 359.77 L388.45 359.88 L390.02 360.28 L391.60 360.00 L393.17 359.74 L394.74 359.85 L396.31 360.28 L397.88 359.44 L399.45 359.63 L401.02 359.47 L402.60 360.28 L404.17 360.14 L405.74 360.36 L407.31 359.69 L408.88 360.17 L410.45 360.31 L412.02 360.05 L413.60 359.60 L415.17 359.70 L416.74 360.23 L418.31 360.34 L419.88 359.64 L421.45 359.97 L423.02 359.86 L424.60 360.43 L426.17 360.47 L427.74 359.90 L429.31 360.15 L430.88 360.49 L432.45 359.70 L434.02 359.99 L435.60 359.84 L437.17 360.52 L438.74 359.81 L440.31 360.55 L441.88 359.83 L443.45 360.22 L445.02 360.33 L446.60 360.14 L448.17 359.81 L449.74 360.43 L451.31 360.57 L452.88 360.21 L454.45 360.48 L456.02 360.61 L457.60 360.58 L459.17 360.69 L460.74 360.56 L462.31 360.47 L463.88 360.48 L465.45 360.07 L467.02 360.52 L468.60 360.33 L470.17 360.64 L471.74 360.49 L473.31 360.81 L474.88 360.60 L476.45 360.83 L478.02 360.18 L479.60 360.35 L481.17 360.70 L482.74 360.44 L484.31 360.03 L485.88 360.81 L487.45 360.16 L489.03 360.52 L490.60 360.48 L492.17 360.17 L493.74 360.59 L495.31 360.49 L496.88 360.34 L498.45 360.07 L500.03 360.68 L501.60 360.23 L503.17 360.36 L504.74 360.43 L506.31 360.66 L507.88 360.72 L509.45 361.00" fill="none" stroke="#f98c1e" stroke-width="1.6" stroke-linejoin="round" opacity="0.75"/>
<circle cx="319.30" cy="366.90" r="1.2" fill="#f98c1e"/>
<circle cx="320.90" cy="363.60" r="1.2" fill="#f98c1e"/>
<path d="M320.88 435.77 L321.67 435.63 L322.46 435.95 L323.25 436.04 L324.04 436.05 L324.83 435.50 L325.61 435.98 L326.40 435.68 L327.19 435.95 L327.98 435.65 L328.77 435.32 L329.56 435.85 L330.35 435.34 L331.14 435.52 L331.93 435.22 L332.72 435.32 L333.50 435.61 L334.29 435.11 L335.08 435.36 L335.87 435.64 L336.66 435.62 L337.45 435.25 L338.24 435.24 L339.03 435.31 L339.82 435.39 L340.61 435.21 L341.39 435.19 L342.18 434.79 L342.97 435.34 L343.76 434.79 L344.55 434.69 L345.34 435.15 L346.13 434.56 L346.92 434.67 L347.71 434.50 L348.50 434.89 L349.28 434.80 L350.07 434.75 L350.86 434.29 L351.65 434.54 L352.44 434.66 L353.23 434.58 L354.02 434.65 L354.81 434.77 L355.60 434.70 L356.39 434.16 L357.17 434.50 L357.96 434.02 L358.75 434.46 L359.54 434.41 L360.33 434.20 L361.12 434.39 L361.91 434.23 L362.70 433.79 L363.49 433.80 L364.28 433.82 L365.06 433.91 L365.85 433.70 L366.64 433.67 L367.43 433.94 L368.22 433.82 L369.01 434.28 L369.80 433.81 L370.59 434.00 L371.38 433.79 L372.17 433.86 L372.95 434.10 L373.74 434.26 L374.53 433.65 L375.32 434.20 L376.11 433.96 L376.90 434.05 L377.69 434.08 L378.48 433.77 L379.27 433.60 L380.06 434.09 L380.84 433.82 L381.63 434.06 L382.42 433.88 L383.21 433.99 L384.00 434.14 L384.79 434.14 L385.58 434.11 L386.37 433.62 L387.16 433.90 L387.95 434.09 L388.74 433.61 L389.52 433.55 L390.31 433.92 L391.10 434.14 L391.89 434.10 L392.68 434.16 L393.47 433.99 L394.26 434.16 L395.05 434.05 L395.84 434.04 L396.63 433.82 L397.41 433.59 L398.20 433.69 L398.99 433.92 L399.78 433.91 L400.57 433.83 L401.36 433.93 L402.15 433.96 L402.94 434.14 L403.73 433.99 L404.52 433.50 L405.30 434.08 L406.09 433.81 L406.88 433.72 L407.67 433.55 L408.46 433.99 L409.25 433.95 L410.04 433.96 L410.83 433.84 L411.62 433.81 L412.41 433.45 L413.19 433.52 L413.98 433.49 L414.77 434.08 L415.56 434.06 L416.35 433.59 L417.14 433.45 L417.93 433.74 L418.72 433.65 L419.51 434.05 L420.30 433.78 L421.08 433.40 L421.87 433.46 L422.66 433.44 L423.45 433.35 L424.24 433.84 L425.03 433.93 L425.82 433.90 L426.61 433.63 L427.40 433.52 L428.19 433.33 L428.97 433.48 L429.76 433.52 L430.55 433.44 L431.34 433.64 L432.13 433.57 L432.92 433.92 L433.71 433.40 L434.50 433.77 L435.29 433.29 L436.08 433.47 L436.86 433.71 L437.65 433.91 L438.44 433.92 L439.23 433.75 L440.02 433.80 L440.81 434.30 L441.60 434.43 L442.39 434.21 L443.18 434.26 L443.97 434.49 L444.75 434.70 L445.54 434.54 L446.33 435.04 L447.12 434.93 L447.91 434.92 L448.70 434.67 L449.49 434.98 L450.28 434.91 L451.07 435.29 L451.86 435.55 L452.65 435.64 L453.43 435.24 L454.22 435.51 L455.01 435.88 L455.80 436.17 L456.59 435.94 L457.38 435.91 L458.17 436.16 L458.96 436.34 L459.75 436.12 L460.54 436.01 L461.32 436.55 L462.11 436.75 L462.90 436.61 L463.69 436.61 L464.48 436.50 L465.27 436.90 L466.06 436.55 L466.85 436.65 L467.64 436.88 L468.43 437.15 L469.21 436.69 L470.00 437.21 L470.79 436.92 L471.58 437.39 L472.37 437.46 L473.16 437.16 L473.95 437.54 L474.74 437.15 L475.53 437.53 L476.32 437.81 L477.10 437.85 L477.89 437.78 L478.68 437.67 L479.47 437.54 L480.26 438.16 L481.05 438.06 L481.84 438.25 L482.63 437.78 L483.42 438.42 L484.21 438.55 L484.99 438.62 L485.78 438.48 L486.57 438.23 L487.36 438.33 L488.15 438.52 L488.94 438.43 L489.73 438.57 L490.52 439.08 L491.31 439.27 L492.10 438.84 L492.88 439.06 L493.67 439.65 L494.46 439.30 L495.25 439.59 L496.04 439.69 L496.83 439.81 L497.62 440.01 L498.41 440.22 L499.20 440.12 L499.99 440.16 L500.77 439.83 L501.56 440.50 L502.35 440.01 L503.14 440.63 L503.93 440.62 L504.72 440.39 L505.51 440.48 L506.30 440.84 L507.09 441.20 L507.88 440.99 L508.66 441.14 L509.45 440.76" fill="none" stroke="#2aa9f0" stroke-width="1.9" stroke-linejoin="round" />
<path d="M320.88 427.42 L321.67 427.24 L322.46 426.81 L323.25 427.35 L324.04 427.03 L324.83 426.69 L325.61 426.66 L326.40 427.10 L327.19 427.04 L327.98 426.96 L328.77 426.31 L329.56 426.70 L330.35 426.30 L331.14 426.14 L331.93 426.46 L332.72 426.45 L333.50 425.91 L334.29 426.09 L335.08 426.27 L335.87 425.89 L336.66 426.11 L337.45 426.08 L338.24 426.20 L339.03 425.62 L339.82 425.45 L340.61 425.58 L341.39 425.31 L342.18 425.88 L342.97 425.67 L343.76 425.45 L344.55 425.05 L345.34 424.99 L346.13 425.32 L346.92 425.36 L347.71 425.17 L348.50 425.06 L349.28 424.70 L350.07 425.09 L350.86 424.52 L351.65 424.41 L352.44 424.21 L353.23 424.10 L354.02 424.06 L354.81 424.11 L355.60 423.97 L356.39 423.79 L357.17 423.35 L357.96 423.69 L358.75 423.46 L359.54 422.93 L360.33 423.13 L361.12 423.19 L361.91 423.19 L362.70 422.81 L363.49 422.95 L364.28 422.47 L365.06 422.52 L365.85 422.43 L366.64 422.91 L367.43 423.01 L368.22 422.98 L369.01 422.68 L369.80 422.51 L370.59 422.67 L371.38 422.80 L372.17 422.65 L372.95 422.49 L373.74 422.43 L374.53 422.36 L375.32 422.27 L376.11 422.38 L376.90 422.73 L377.69 422.21 L378.48 422.57 L379.27 422.36 L380.06 422.47 L380.84 422.20 L381.63 422.55 L382.42 422.49 L383.21 422.48 L384.00 422.52 L384.79 421.99 L385.58 422.18 L386.37 422.33 L387.16 422.26 L387.95 421.83 L388.74 422.15 L389.52 422.32 L390.31 421.89 L391.10 421.98 L391.89 421.73 L392.68 422.32 L393.47 422.04 L394.26 421.78 L395.05 421.75 L395.84 421.67 L396.63 422.26 L397.41 422.06 L398.20 422.16 L398.99 422.09 L399.78 421.53 L400.57 421.78 L401.36 421.51 L402.15 421.88 L402.94 421.52 L403.73 421.79 L404.52 421.91 L405.30 421.53 L406.09 421.40 L406.88 421.96 L407.67 421.61 L408.46 421.57 L409.25 421.83 L410.04 421.71 L410.83 421.85 L411.62 421.79 L412.41 421.74 L413.19 421.48 L413.98 421.43 L414.77 421.72 L415.56 421.84 L416.35 421.60 L417.14 421.34 L417.93 421.67 L418.72 421.56 L419.51 421.62 L420.30 421.19 L421.08 421.35 L421.87 421.69 L422.66 421.68 L423.45 421.49 L424.24 421.39 L425.03 421.34 L425.82 421.73 L426.61 421.69 L427.40 421.33 L428.19 421.54 L428.97 421.64 L429.76 421.64 L430.55 421.20 L431.34 421.65 L432.13 421.49 L432.92 421.64 L433.71 421.61 L434.50 421.32 L435.29 421.24 L436.08 421.68 L436.86 421.81 L437.65 421.45 L438.44 421.83 L439.23 421.98 L440.02 421.37 L440.81 421.71 L441.60 421.45 L442.39 421.74 L443.18 421.42 L443.97 421.73 L444.75 421.94 L445.54 422.06 L446.33 421.70 L447.12 421.65 L447.91 421.47 L448.70 422.05 L449.49 421.69 L450.28 421.88 L451.07 421.80 L451.86 422.06 L452.65 421.97 L453.43 421.82 L454.22 421.55 L455.01 422.12 L455.80 421.87 L456.59 421.66 L457.38 421.56 L458.17 422.11 L458.96 422.17 L459.75 421.61 L460.54 421.60 L461.32 421.96 L462.11 422.29 L462.90 421.71 L463.69 422.10 L464.48 421.77 L465.27 421.99 L466.06 421.88 L466.85 422.36 L467.64 421.95 L468.43 422.37 L469.21 422.27 L470.00 421.99 L470.79 422.03 L471.58 422.50 L472.37 422.50 L473.16 422.40 L473.95 422.34 L474.74 422.46 L475.53 422.67 L476.32 422.61 L477.10 422.30 L477.89 422.21 L478.68 422.82 L479.47 422.49 L480.26 422.38 L481.05 422.90 L481.84 422.37 L482.63 422.90 L483.42 422.59 L484.21 422.65 L484.99 422.62 L485.78 422.87 L486.57 422.81 L487.36 422.73 L488.15 422.86 L488.94 422.72 L489.73 422.90 L490.52 422.93 L491.31 423.24 L492.10 422.85 L492.88 422.97 L493.67 423.17 L494.46 422.83 L495.25 422.84 L496.04 423.09 L496.83 423.31 L497.62 423.13 L498.41 423.41 L499.20 423.42 L499.99 423.23 L500.77 423.49 L501.56 423.28 L502.35 423.25 L503.14 423.60 L503.93 423.22 L504.72 423.63 L505.51 423.20 L506.30 423.20 L507.09 423.40 L507.88 423.75 L508.66 423.46 L509.45 423.54" fill="none" stroke="#f98c1e" stroke-width="1.9" stroke-linejoin="round" />
<circle cx="320.50" cy="413.50" r="1.3" fill="#2aa9f0"/>
<circle cx="321.80" cy="399.50" r="1.3" fill="#f98c1e"/>
<circle cx="409.20" cy="377.70" r="1.2" fill="#2aa9f0"/>
<circle cx="409.20" cy="394.00" r="1.2" fill="#f98c1e"/>
<text x="427.60" y="382.54" font-family='"Liberation Sans", sans-serif' font-size="13.8" text-anchor="start" fill="#2b2b2b" stroke="#2b2b2b" stroke-width="0.25" stroke-linejoin="round" >Li</text>
<path d="M444.80 372.58v11.04" stroke="#909090" stroke-width="0.9"/>
<text x="451.47" y="382.54" font-family='"Liberation Sans", sans-serif' font-size="13.8" text-anchor="start" fill="#2b2b2b" stroke="#2b2b2b" stroke-width="0.25" stroke-linejoin="round" >LFP</text>
<text x="427.60" y="399.04" font-family='"Liberation Sans", sans-serif' font-size="13.8" text-anchor="start" fill="#2b2b2b" stroke="#2b2b2b" stroke-width="0.25" stroke-linejoin="round" >LiF-Li</text>
<path d="M468.70 389.08v11.04" stroke="#909090" stroke-width="0.9"/>
<text x="475.67" y="399.04" font-family='"Liberation Sans", sans-serif' font-size="13.8" text-anchor="start" fill="#2b2b2b" stroke="#2b2b2b" stroke-width="0.25" stroke-linejoin="round" >LFP</text>
</svg></body></html>
